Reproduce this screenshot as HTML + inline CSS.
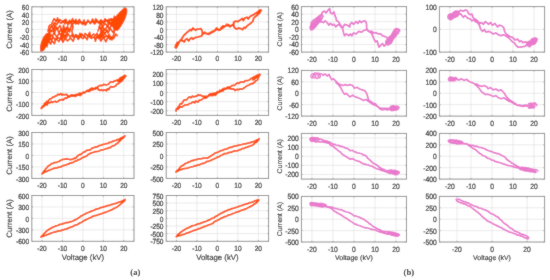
<!DOCTYPE html>
<html><head><meta charset="utf-8"><style>
html,body{margin:0;padding:0;background:#fff;width:550px;height:280px;overflow:hidden}
svg{display:block}
text{text-rendering:geometricPrecision}
.t{font-family:"Liberation Sans",sans-serif;font-size:27.2px;fill:#2a2a2a;stroke:#2a2a2a;stroke-width:0.8px}
.l{font-family:"Liberation Sans",sans-serif;font-size:7.8px;fill:#2a2a2a;stroke:#2a2a2a;stroke-width:0.15px}
.tb{font-family:"Liberation Sans",sans-serif;font-size:28.0px;fill:#2a2a2a;stroke:#2a2a2a;stroke-width:0.8px}
.lb{font-family:"Liberation Sans",sans-serif;font-size:6.95px;fill:#2a2a2a;stroke:#2a2a2a;stroke-width:0.15px}
.p{font-family:"Liberation Serif",serif;font-size:8.6px;font-weight:bold;fill:#111}
</style></head><body>
<svg width="550" height="280" viewBox="0 0 550 280">
<defs><filter id="bl" x="0" y="0" width="1" height="1"><feConvolveMatrix order="3" kernelMatrix="1 2 1 2 24 2 1 2 1" divisor="36" edgeMode="duplicate"/></filter></defs>
<rect width="550" height="280" fill="#fff"/>
<g filter="url(#bl)">
<rect width="550" height="280" fill="#fff"/>
<line x1="42.02" y1="6.80" x2="42.02" y2="52.10" stroke="#dddddd" stroke-width="0.6"/>
<line x1="62.46" y1="6.80" x2="62.46" y2="52.10" stroke="#dddddd" stroke-width="0.6"/>
<line x1="82.90" y1="6.80" x2="82.90" y2="52.10" stroke="#dddddd" stroke-width="0.6"/>
<line x1="103.34" y1="6.80" x2="103.34" y2="52.10" stroke="#dddddd" stroke-width="0.6"/>
<line x1="123.78" y1="6.80" x2="123.78" y2="52.10" stroke="#dddddd" stroke-width="0.6"/>
<line x1="31.80" y1="44.55" x2="134.00" y2="44.55" stroke="#dddddd" stroke-width="0.6"/>
<line x1="31.80" y1="37.00" x2="134.00" y2="37.00" stroke="#dddddd" stroke-width="0.6"/>
<line x1="31.80" y1="29.45" x2="134.00" y2="29.45" stroke="#dddddd" stroke-width="0.6"/>
<line x1="31.80" y1="21.90" x2="134.00" y2="21.90" stroke="#dddddd" stroke-width="0.6"/>
<line x1="31.80" y1="14.35" x2="134.00" y2="14.35" stroke="#dddddd" stroke-width="0.6"/>
<path d="M40.80,51.00 L40.60,47.00 L41.60,42.50 L43.50,37.70 L46.40,33.90 L49.30,32.90 L51.20,34.80 L49.30,39.60 L46.40,45.40 L43.50,50.20 Z" fill="#ff4a00" stroke="#ff4a00" stroke-width="1.35" stroke-linejoin="round"/>
<path d="M113.00,23.50 L115.70,17.50 L118.00,14.50 L120.60,11.70 L123.50,9.00 L125.40,7.90 L126.60,9.50 L126.60,12.50 L125.50,16.50 L124.40,19.40 L122.50,23.00 L120.60,26.20 L117.70,30.00 L114.80,30.00 Z" fill="#ff4a00" stroke="#ff4a00" stroke-width="1.35" stroke-linejoin="round"/>
<path d="M48.00,31.16 L49.22,25.64 L51.59,24.31 L54.06,18.59 L56.37,21.65 L57.56,17.86 L58.78,22.22 L59.77,19.55 L62.53,21.59 L64.99,19.72 L67.32,23.48 L69.69,20.21 L71.24,22.99 L72.49,18.48 L74.01,23.13 L75.76,19.26 L77.48,22.52 L79.35,19.41 L81.84,23.60 L84.14,20.04 L85.13,25.09 L87.92,20.11 L90.23,23.61 L92.53,19.00 L94.30,23.78 L95.68,18.73 L98.04,22.64 L101.03,19.75 L103.39,23.21 L104.96,18.89 L107.77,22.30 L109.09,19.15 L110.34,20.50 L111.71,18.54 L113.29,21.00 L114.40,16.32 L116.83,18.84" fill="none" stroke="#ff4a00" stroke-width="1.62" stroke-linejoin="round" stroke-linecap="round"/>
<path d="M49.00,32.60 L50.46,27.52 L52.80,26.06 L54.59,22.67 L56.55,24.70 L58.84,21.57 L60.99,23.19 L63.62,21.55 L64.82,23.96 L65.87,19.41 L68.05,24.83 L70.09,21.74 L72.16,24.67 L74.91,21.05 L75.87,23.99 L76.89,22.15 L78.36,24.09 L80.02,21.78 L82.94,24.47 L84.17,21.91 L85.86,24.48 L87.94,20.57 L90.51,23.27 L92.05,21.69 L94.99,23.72 L97.29,20.29 L99.15,23.53 L101.24,20.55 L104.08,22.44 L107.13,20.00 L108.08,23.24 L110.68,19.16 L112.38,20.94 L115.37,18.09 L117.82,19.60" fill="none" stroke="#ff4a00" stroke-width="1.62" stroke-linejoin="round" stroke-linecap="round"/>
<path d="M47.00,46.77 L48.17,40.41 L50.77,43.94 L51.66,40.25 L54.40,43.65 L56.21,38.15 L58.87,41.54 L60.85,37.88 L63.02,42.27 L64.70,38.68 L67.64,40.88 L70.45,37.96 L73.19,41.28 L75.54,34.50 L78.13,39.42 L80.15,36.79 L82.87,38.64 L85.03,36.63 L87.22,39.74 L88.32,35.14 L91.28,38.43 L94.26,36.66 L95.40,41.19 L96.59,36.55 L98.62,38.59 L99.47,34.94 L100.60,41.23 L103.45,37.21 L105.88,41.87 L108.29,36.03 L109.99,39.56 L111.29,36.89 L113.66,38.58 L115.80,34.17 L117.42,35.56" fill="none" stroke="#ff4a00" stroke-width="1.62" stroke-linejoin="round" stroke-linecap="round"/>
<path d="M48.00,41.71 L50.76,38.48 L51.67,40.38 L52.87,36.57 L55.25,40.22 L57.63,37.65 L60.34,38.77 L61.34,33.69 L62.43,40.17 L63.36,35.87 L66.23,38.09 L67.63,33.57 L70.29,36.96 L72.71,34.04 L74.29,37.79 L76.44,34.75 L78.30,37.74 L79.91,33.37 L80.86,36.70 L81.74,33.69 L83.79,36.86 L85.08,33.41 L87.78,36.09 L89.59,32.30 L90.71,37.16 L93.41,33.94 L95.69,35.67 L97.14,33.14 L98.42,37.47 L99.88,34.22 L100.88,37.85 L103.05,34.16 L104.53,37.36 L106.59,35.25 L108.00,37.94 L109.01,34.07 L111.88,39.91 L114.43,31.88" fill="none" stroke="#ff4a00" stroke-width="1.62" stroke-linejoin="round" stroke-linecap="round"/>
<path d="M49.00,33.13 L49.97,29.92 L50.79,31.97 L52.24,29.83 L54.34,33.52 L56.67,27.25 L58.96,33.23 L61.22,28.71 L62.55,33.29 L63.54,25.24 L65.00,32.85 L67.35,26.31 L69.67,31.83 L71.71,23.87" fill="none" stroke="#ff4a00" stroke-width="1.62" stroke-linejoin="round" stroke-linecap="round"/>
<path d="M50.00,28.89 L52.02,25.95 L53.90,31.08 L54.76,25.19 L57.28,29.49 L59.99,25.38 L62.74,34.84 L64.53,27.58 L65.49,32.10 L66.51,27.82 L68.93,31.53 L70.47,27.98" fill="none" stroke="#ff4a00" stroke-width="1.62" stroke-linejoin="round" stroke-linecap="round"/>
<path d="M52.00,36.43 L54.13,32.93 L56.94,37.22 L59.15,32.78 L61.67,36.03 L62.86,32.81 L64.92,36.65 L67.62,31.61" fill="none" stroke="#ff4a00" stroke-width="1.62" stroke-linejoin="round" stroke-linecap="round"/>
<path d="M98.00,30.97 L99.74,26.54 L101.36,31.60 L102.21,25.94 L105.02,30.23 L107.73,25.20 L109.00,29.13 L111.80,24.02 L114.03,28.91 L116.41,23.15" fill="none" stroke="#ff4a00" stroke-width="1.62" stroke-linejoin="round" stroke-linecap="round"/>
<path d="M99.00,27.09 L101.28,22.35 L102.48,26.40 L105.29,23.58 L107.44,26.18 L110.01,22.25 L110.96,26.58 L112.10,20.56 L113.51,24.39 L116.06,19.81" fill="none" stroke="#ff4a00" stroke-width="1.62" stroke-linejoin="round" stroke-linecap="round"/>
<path d="M100.00,36.08 L101.03,30.57 L101.93,37.03 L103.05,29.77 L104.90,34.29 L106.90,29.90 L107.98,32.94 L110.39,28.67 L113.16,32.50 L115.39,28.02" fill="none" stroke="#ff4a00" stroke-width="1.62" stroke-linejoin="round" stroke-linecap="round"/>
<path d="M72.00,23.00 L73.00,27.00 L72.00,31.00 L73.00,37.00" fill="none" stroke="#ff4a00" stroke-width="1.62" stroke-linejoin="round" stroke-linecap="round"/>
<line x1="42.02" y1="52.10" x2="42.02" y2="50.90" stroke="#8c8c8c" stroke-width="0.7"/>
<line x1="42.02" y1="6.80" x2="42.02" y2="8.00" stroke="#8c8c8c" stroke-width="0.7"/>
<line x1="62.46" y1="52.10" x2="62.46" y2="50.90" stroke="#8c8c8c" stroke-width="0.7"/>
<line x1="62.46" y1="6.80" x2="62.46" y2="8.00" stroke="#8c8c8c" stroke-width="0.7"/>
<line x1="82.90" y1="52.10" x2="82.90" y2="50.90" stroke="#8c8c8c" stroke-width="0.7"/>
<line x1="82.90" y1="6.80" x2="82.90" y2="8.00" stroke="#8c8c8c" stroke-width="0.7"/>
<line x1="103.34" y1="52.10" x2="103.34" y2="50.90" stroke="#8c8c8c" stroke-width="0.7"/>
<line x1="103.34" y1="6.80" x2="103.34" y2="8.00" stroke="#8c8c8c" stroke-width="0.7"/>
<line x1="123.78" y1="52.10" x2="123.78" y2="50.90" stroke="#8c8c8c" stroke-width="0.7"/>
<line x1="123.78" y1="6.80" x2="123.78" y2="8.00" stroke="#8c8c8c" stroke-width="0.7"/>
<line x1="31.80" y1="52.10" x2="33.00" y2="52.10" stroke="#8c8c8c" stroke-width="0.7"/>
<line x1="134.00" y1="52.10" x2="132.80" y2="52.10" stroke="#8c8c8c" stroke-width="0.7"/>
<line x1="31.80" y1="44.55" x2="33.00" y2="44.55" stroke="#8c8c8c" stroke-width="0.7"/>
<line x1="134.00" y1="44.55" x2="132.80" y2="44.55" stroke="#8c8c8c" stroke-width="0.7"/>
<line x1="31.80" y1="37.00" x2="33.00" y2="37.00" stroke="#8c8c8c" stroke-width="0.7"/>
<line x1="134.00" y1="37.00" x2="132.80" y2="37.00" stroke="#8c8c8c" stroke-width="0.7"/>
<line x1="31.80" y1="29.45" x2="33.00" y2="29.45" stroke="#8c8c8c" stroke-width="0.7"/>
<line x1="134.00" y1="29.45" x2="132.80" y2="29.45" stroke="#8c8c8c" stroke-width="0.7"/>
<line x1="31.80" y1="21.90" x2="33.00" y2="21.90" stroke="#8c8c8c" stroke-width="0.7"/>
<line x1="134.00" y1="21.90" x2="132.80" y2="21.90" stroke="#8c8c8c" stroke-width="0.7"/>
<line x1="31.80" y1="14.35" x2="33.00" y2="14.35" stroke="#8c8c8c" stroke-width="0.7"/>
<line x1="134.00" y1="14.35" x2="132.80" y2="14.35" stroke="#8c8c8c" stroke-width="0.7"/>
<line x1="31.80" y1="6.80" x2="33.00" y2="6.80" stroke="#8c8c8c" stroke-width="0.7"/>
<line x1="134.00" y1="6.80" x2="132.80" y2="6.80" stroke="#8c8c8c" stroke-width="0.7"/>
<rect x="31.80" y="6.80" width="102.20" height="45.30" fill="none" stroke="#8c8c8c" stroke-width="0.95"/>
<text transform="translate(42.02,61.35) scale(0.24,0.275)" text-anchor="middle" class="t">-20</text>
<text transform="translate(62.46,61.35) scale(0.24,0.275)" text-anchor="middle" class="t">-10</text>
<text transform="translate(82.90,61.35) scale(0.24,0.275)" text-anchor="middle" class="t">0</text>
<text transform="translate(103.34,61.35) scale(0.24,0.275)" text-anchor="middle" class="t">10</text>
<text transform="translate(123.78,61.35) scale(0.24,0.275)" text-anchor="middle" class="t">20</text>
<text transform="translate(29.10,55.25) scale(0.24,0.275)" text-anchor="end" class="t">-60</text>
<text transform="translate(29.10,47.70) scale(0.24,0.275)" text-anchor="end" class="t">-40</text>
<text transform="translate(29.10,40.15) scale(0.24,0.275)" text-anchor="end" class="t">-20</text>
<text transform="translate(29.10,32.60) scale(0.24,0.275)" text-anchor="end" class="t">0</text>
<text transform="translate(29.10,25.05) scale(0.24,0.275)" text-anchor="end" class="t">20</text>
<text transform="translate(29.10,17.50) scale(0.24,0.275)" text-anchor="end" class="t">40</text>
<text transform="translate(29.10,9.95) scale(0.24,0.275)" text-anchor="end" class="t">60</text>
<text transform="translate(11.60,29.45) rotate(-90)" x="0" y="0" text-anchor="middle" class="l">Current (A)</text>
<line x1="176.44" y1="6.80" x2="176.44" y2="52.10" stroke="#dddddd" stroke-width="0.6"/>
<line x1="196.92" y1="6.80" x2="196.92" y2="52.10" stroke="#dddddd" stroke-width="0.6"/>
<line x1="217.40" y1="6.80" x2="217.40" y2="52.10" stroke="#dddddd" stroke-width="0.6"/>
<line x1="237.88" y1="6.80" x2="237.88" y2="52.10" stroke="#dddddd" stroke-width="0.6"/>
<line x1="258.36" y1="6.80" x2="258.36" y2="52.10" stroke="#dddddd" stroke-width="0.6"/>
<line x1="166.20" y1="44.55" x2="268.60" y2="44.55" stroke="#dddddd" stroke-width="0.6"/>
<line x1="166.20" y1="37.00" x2="268.60" y2="37.00" stroke="#dddddd" stroke-width="0.6"/>
<line x1="166.20" y1="29.45" x2="268.60" y2="29.45" stroke="#dddddd" stroke-width="0.6"/>
<line x1="166.20" y1="21.90" x2="268.60" y2="21.90" stroke="#dddddd" stroke-width="0.6"/>
<line x1="166.20" y1="14.35" x2="268.60" y2="14.35" stroke="#dddddd" stroke-width="0.6"/>
<path d="M176.00,48.00 L176.80,44.10 L178.50,42.50 L180.10,40.90 L181.50,39.50 L182.70,37.10 L183.80,35.50 L186.50,32.80 L189.20,30.70 L190.20,29.60 L191.30,30.70 L192.90,28.00 L194.00,29.10 L195.60,30.20 L197.20,29.10 L199.30,29.10 L200.90,28.60 L202.00,30.70 L202.50,32.80 L203.10,33.90 L204.70,32.30 L206.30,33.40 L207.90,33.90 L210.00,32.80 L211.60,31.80 L213.20,31.20 L214.90,30.20 L216.50,28.00 L217.50,28.60 L218.60,30.20 L220.00,29.60 L220.90,28.00 L223.00,25.90 L225.20,26.40 L226.80,24.30 L228.90,24.80 L230.50,26.40 L232.10,24.80 L233.70,24.30 L233.70,22.10 L235.90,21.10 L238.00,21.60 L240.20,20.00 L242.30,18.40 L243.40,20.50 L245.00,17.80 L247.10,17.30 L248.20,18.90 L249.80,16.80 L251.40,15.70 L253.00,15.20 L255.10,13.60 L257.30,12.50 L259.40,10.90 L260.50,10.50 L260.00,12.50 L257.30,15.20 L255.10,16.80 L253.50,18.40 L253.00,21.10 L251.40,22.70 L249.30,24.30 L247.10,25.90 L245.50,28.00 L243.90,27.50 L242.80,29.60 L240.70,28.60 L238.60,28.00 L236.40,29.10 L234.30,27.50 L233.70,24.80 L232.00,25.50 L230.00,26.80 L228.00,25.50 L226.00,25.50 L224.00,27.00 L222.00,28.50 L220.00,30.00 L218.70,30.20 L217.00,29.00 L215.00,30.80 L213.00,32.00 L211.00,33.00 L209.00,34.30 L207.00,34.00 L205.00,33.00 L202.50,33.40 L201.50,36.10 L199.30,36.60 L197.20,37.10 L195.00,37.70 L192.90,39.30 L191.80,37.70 L190.20,38.70 L188.60,40.90 L187.00,38.70 L185.40,39.80 L184.30,41.90 L182.70,40.90 L180.60,39.80 L177.40,44.60 L175.20,47.30" fill="none" stroke="#ff4a00" stroke-width="1.89" stroke-linejoin="round" stroke-linecap="round"/>
<path d="M177.00,46.50 L176.97,46.90 L176.77,47.19 L176.44,47.29 L176.06,47.17 L175.73,46.81 L175.53,46.27 L175.50,45.62 L175.67,44.98 L176.02,44.44 L176.49,44.08 L177.01,43.96 L177.48,44.06 L177.83,44.35 L178.00,44.75 L177.97,45.15 L177.77,45.44 L177.44,45.54 L177.06,45.42 L176.73,45.06 L176.53,44.52 L176.50,43.88 L176.67,43.23 L177.02,42.69 L177.49,42.33 L178.01,42.21 L178.48,42.31 L178.83,42.60 L179.00,43.00" fill="none" stroke="#ff4a00" stroke-width="1.62" stroke-linejoin="round" stroke-linecap="round"/>
<path d="M258.00,13.50 L258.03,13.83 L257.87,14.07 L257.60,14.15 L257.28,14.05 L257.00,13.75 L256.85,13.29 L256.88,12.75 L257.10,12.21 L257.50,11.75 L258.03,11.45 L258.60,11.35 L259.12,11.43 L259.53,11.67 L259.75,12.00 L259.78,12.33 L259.62,12.57 L259.35,12.65 L259.03,12.55 L258.75,12.25 L258.60,11.79 L258.62,11.25 L258.85,10.71 L259.25,10.25 L259.78,9.95 L260.35,9.85 L260.87,9.93 L261.28,10.17 L261.50,10.50" fill="none" stroke="#ff4a00" stroke-width="1.62" stroke-linejoin="round" stroke-linecap="round"/>
<line x1="176.44" y1="52.10" x2="176.44" y2="50.90" stroke="#8c8c8c" stroke-width="0.7"/>
<line x1="176.44" y1="6.80" x2="176.44" y2="8.00" stroke="#8c8c8c" stroke-width="0.7"/>
<line x1="196.92" y1="52.10" x2="196.92" y2="50.90" stroke="#8c8c8c" stroke-width="0.7"/>
<line x1="196.92" y1="6.80" x2="196.92" y2="8.00" stroke="#8c8c8c" stroke-width="0.7"/>
<line x1="217.40" y1="52.10" x2="217.40" y2="50.90" stroke="#8c8c8c" stroke-width="0.7"/>
<line x1="217.40" y1="6.80" x2="217.40" y2="8.00" stroke="#8c8c8c" stroke-width="0.7"/>
<line x1="237.88" y1="52.10" x2="237.88" y2="50.90" stroke="#8c8c8c" stroke-width="0.7"/>
<line x1="237.88" y1="6.80" x2="237.88" y2="8.00" stroke="#8c8c8c" stroke-width="0.7"/>
<line x1="258.36" y1="52.10" x2="258.36" y2="50.90" stroke="#8c8c8c" stroke-width="0.7"/>
<line x1="258.36" y1="6.80" x2="258.36" y2="8.00" stroke="#8c8c8c" stroke-width="0.7"/>
<line x1="166.20" y1="52.10" x2="167.40" y2="52.10" stroke="#8c8c8c" stroke-width="0.7"/>
<line x1="268.60" y1="52.10" x2="267.40" y2="52.10" stroke="#8c8c8c" stroke-width="0.7"/>
<line x1="166.20" y1="44.55" x2="167.40" y2="44.55" stroke="#8c8c8c" stroke-width="0.7"/>
<line x1="268.60" y1="44.55" x2="267.40" y2="44.55" stroke="#8c8c8c" stroke-width="0.7"/>
<line x1="166.20" y1="37.00" x2="167.40" y2="37.00" stroke="#8c8c8c" stroke-width="0.7"/>
<line x1="268.60" y1="37.00" x2="267.40" y2="37.00" stroke="#8c8c8c" stroke-width="0.7"/>
<line x1="166.20" y1="29.45" x2="167.40" y2="29.45" stroke="#8c8c8c" stroke-width="0.7"/>
<line x1="268.60" y1="29.45" x2="267.40" y2="29.45" stroke="#8c8c8c" stroke-width="0.7"/>
<line x1="166.20" y1="21.90" x2="167.40" y2="21.90" stroke="#8c8c8c" stroke-width="0.7"/>
<line x1="268.60" y1="21.90" x2="267.40" y2="21.90" stroke="#8c8c8c" stroke-width="0.7"/>
<line x1="166.20" y1="14.35" x2="167.40" y2="14.35" stroke="#8c8c8c" stroke-width="0.7"/>
<line x1="268.60" y1="14.35" x2="267.40" y2="14.35" stroke="#8c8c8c" stroke-width="0.7"/>
<line x1="166.20" y1="6.80" x2="167.40" y2="6.80" stroke="#8c8c8c" stroke-width="0.7"/>
<line x1="268.60" y1="6.80" x2="267.40" y2="6.80" stroke="#8c8c8c" stroke-width="0.7"/>
<rect x="166.20" y="6.80" width="102.40" height="45.30" fill="none" stroke="#8c8c8c" stroke-width="0.95"/>
<text transform="translate(176.44,61.35) scale(0.24,0.275)" text-anchor="middle" class="t">-20</text>
<text transform="translate(196.92,61.35) scale(0.24,0.275)" text-anchor="middle" class="t">-10</text>
<text transform="translate(217.40,61.35) scale(0.24,0.275)" text-anchor="middle" class="t">0</text>
<text transform="translate(237.88,61.35) scale(0.24,0.275)" text-anchor="middle" class="t">10</text>
<text transform="translate(258.36,61.35) scale(0.24,0.275)" text-anchor="middle" class="t">20</text>
<text transform="translate(163.50,55.25) scale(0.24,0.275)" text-anchor="end" class="t">-120</text>
<text transform="translate(163.50,47.70) scale(0.24,0.275)" text-anchor="end" class="t">-80</text>
<text transform="translate(163.50,40.15) scale(0.24,0.275)" text-anchor="end" class="t">-40</text>
<text transform="translate(163.50,32.60) scale(0.24,0.275)" text-anchor="end" class="t">0</text>
<text transform="translate(163.50,25.05) scale(0.24,0.275)" text-anchor="end" class="t">40</text>
<text transform="translate(163.50,17.50) scale(0.24,0.275)" text-anchor="end" class="t">80</text>
<text transform="translate(163.50,9.95) scale(0.24,0.275)" text-anchor="end" class="t">120</text>
<line x1="311.91" y1="6.60" x2="311.91" y2="52.10" stroke="#dddddd" stroke-width="0.6"/>
<line x1="332.93" y1="6.60" x2="332.93" y2="52.10" stroke="#dddddd" stroke-width="0.6"/>
<line x1="353.95" y1="6.60" x2="353.95" y2="52.10" stroke="#dddddd" stroke-width="0.6"/>
<line x1="374.97" y1="6.60" x2="374.97" y2="52.10" stroke="#dddddd" stroke-width="0.6"/>
<line x1="395.99" y1="6.60" x2="395.99" y2="52.10" stroke="#dddddd" stroke-width="0.6"/>
<line x1="301.40" y1="44.52" x2="406.50" y2="44.52" stroke="#dddddd" stroke-width="0.6"/>
<line x1="301.40" y1="36.93" x2="406.50" y2="36.93" stroke="#dddddd" stroke-width="0.6"/>
<line x1="301.40" y1="29.35" x2="406.50" y2="29.35" stroke="#dddddd" stroke-width="0.6"/>
<line x1="301.40" y1="21.77" x2="406.50" y2="21.77" stroke="#dddddd" stroke-width="0.6"/>
<line x1="301.40" y1="14.18" x2="406.50" y2="14.18" stroke="#dddddd" stroke-width="0.6"/>
<path d="M310.90,29.50 L311.30,22.50 L313.90,19.90 L316.50,18.10 L319.10,16.40 L320.90,15.50 L322.60,12.00 L324.40,11.10 L326.10,12.90 L327.90,10.30 L329.60,8.50 L330.50,12.90 L332.30,13.80 L334.00,12.00 L334.90,15.50 L335.80,17.30 L336.60,20.80 L338.40,21.60 L340.10,24.30 L341.90,26.90 L342.80,29.50 L343.60,33.00 L344.50,35.60 L346.30,33.90 L348.90,35.60 L350.50,33.90 L351.80,35.70 L353.50,33.00 L356.10,33.90 L358.80,31.30 L361.40,32.20 L364.00,30.40 L366.60,29.50 L368.40,31.30 L370.20,32.20 L371.90,33.90 L373.70,38.30 L375.40,41.80 L377.20,40.90 L378.90,47.10 L380.70,45.30 L382.40,43.50 L384.20,46.20 L385.90,44.40 L387.70,41.80 L387.70,38.30 L385.00,36.50 L382.40,35.70 L380.70,33.90 L378.00,33.90 L376.30,32.70 L373.70,33.00 L371.90,31.30 L369.30,31.30 L367.50,30.40 L366.60,27.80 L366.60,24.30 L365.80,21.60 L364.00,20.80 L361.40,22.50 L359.60,20.80 L357.90,23.40 L356.10,21.60 L353.50,24.30 L351.80,22.50 L350.00,24.30 L349.80,26.90 L347.10,25.10 L344.50,24.30 L342.80,27.80 L341.00,26.90 L339.30,24.30 L337.50,25.10 L335.80,26.90 L334.00,24.30 L332.30,25.10 L330.50,23.40 L328.80,25.10 L327.00,22.50 L325.30,20.80 L323.50,22.50 L320.90,21.60 L318.30,22.50 L315.60,24.30 L313.00,26.00 L310.90,29.50" fill="none" stroke="#e979cc" stroke-width="1.7550000000000001" stroke-linejoin="round" stroke-linecap="round"/>
<path d="M312.00,28.00 L320.50,17.50" fill="none" stroke="#e979cc" stroke-width="4.86" stroke-linejoin="round" stroke-linecap="round" stroke-opacity="0.3"/>
<path d="M313.31,28.00 L313.13,28.99 L312.35,29.72 L311.12,29.76 L310.32,28.67 L310.04,27.39 L310.45,26.04 L311.50,24.88 L312.99,25.03 L314.42,25.47 L314.97,26.78 L314.41,27.92 L313.51,28.81 L312.14,28.66 L311.06,27.68 L310.38,26.17 L311.38,24.73 L312.61,23.81 L314.24,23.22 L315.48,24.24 L315.96,25.56 L315.68,26.86 L314.58,27.64 L313.07,27.82 L312.11,26.46 L311.76,24.94 L312.16,23.31 L313.56,22.28 L315.31,21.96 L316.73,22.88 L317.09,24.33 L316.66,25.58 L315.70,26.61 L314.15,26.55 L313.32,25.13 L312.65,23.72 L313.20,22.08 L314.65,21.14 L316.19,21.26 L317.63,21.77 L318.15,23.11 L317.54,24.23 L316.65,25.08 L315.40,24.72 L314.56,23.77 L314.17,22.50 L314.69,21.17 L315.82,20.29 L317.24,20.07 L318.49,20.69 L319.06,21.89 L318.72,23.10 L317.69,23.79 L316.44,23.55 L315.70,22.49 L315.54,21.28 L315.80,19.99 L316.92,19.19 L318.24,19.02 L319.08,19.80 L319.55,20.67 L319.64,21.78 L318.64,22.25 L317.54,22.18 L316.91,21.15 L316.54,20.06 L316.77,18.70 L317.97,17.94 L319.34,17.64 L320.20,18.54 L320.78,19.44 L320.69,20.55 L319.69,21.03 L318.55,21.09 L317.68,20.14 L317.61,18.83 L318.05,17.64 L318.91,16.39 L320.31,16.68 L321.41,17.20 L321.99,18.22 L321.89,19.43 L320.89,20.23 L319.58,19.95 L318.56,19.05 L318.06,17.61 L318.82,16.21 L319.99,15.23 L321.53,14.96 L322.87,15.69 L323.14,17.00" fill="none" stroke="#e979cc" stroke-width="1.4850000000000003" stroke-linejoin="round" stroke-linecap="round"/>
<path d="M389.00,42.00 L396.50,31.50" fill="none" stroke="#e979cc" stroke-width="5.4" stroke-linejoin="round" stroke-linecap="round" stroke-opacity="0.3"/>
<path d="M390.36,42.50 L390.08,43.83 L388.96,44.67 L387.38,44.90 L386.20,43.61 L385.63,41.92 L386.54,40.35 L387.79,39.10 L389.63,38.79 L391.04,39.85 L391.90,41.35 L391.40,42.98 L389.91,43.67 L388.41,43.36 L386.91,42.60 L386.81,40.77 L387.44,39.21 L388.64,37.80 L390.53,37.64 L392.08,38.60 L392.78,40.20 L391.94,41.58 L390.74,42.30 L389.31,42.19 L387.79,41.47 L387.83,39.62 L388.38,38.08 L389.71,37.19 L391.24,37.08 L392.46,37.82 L393.14,39.05 L392.66,40.29 L391.61,41.07 L390.14,41.27 L389.25,39.90 L388.57,38.48 L389.21,36.88 L390.59,35.97 L392.15,35.88 L393.49,36.57 L393.92,37.90 L393.38,39.01 L392.44,39.69 L391.24,39.51 L390.24,38.69 L389.61,37.33 L390.44,35.98 L391.65,35.31 L392.97,34.99 L394.25,35.53 L394.55,36.75 L394.36,37.92 L393.24,38.25 L392.21,38.12 L391.13,37.55 L391.17,36.17 L391.48,34.93 L392.52,34.07 L393.80,34.06 L394.75,34.67 L395.17,35.60 L395.37,36.85 L394.25,37.44 L392.95,37.48 L392.07,36.37 L391.48,35.02 L392.05,33.54 L393.35,32.70 L394.79,32.61 L395.98,33.28 L396.34,34.45 L396.13,35.60 L395.21,36.48 L393.92,36.10 L392.64,35.46 L392.42,33.88 L392.89,32.35 L394.14,31.21 L395.79,31.17 L396.90,32.11 L397.51,33.30 L397.06,34.47 L396.07,35.19 L394.61,35.61 L393.45,34.37 L392.81,32.73 L393.51,30.99 L395.05,30.11 L396.82,29.61 L398.36,30.56 L398.75,32.15 L398.17,33.48 L397.08,34.39 L395.59,34.21 L394.31,33.25 L394.05,31.58 L394.32,29.77 L395.79,28.46 L397.62,28.77 L399.27,29.40 L399.81,31.00" fill="none" stroke="#e979cc" stroke-width="1.4850000000000003" stroke-linejoin="round" stroke-linecap="round"/>
<line x1="311.91" y1="52.10" x2="311.91" y2="50.90" stroke="#8c8c8c" stroke-width="0.7"/>
<line x1="311.91" y1="6.60" x2="311.91" y2="7.80" stroke="#8c8c8c" stroke-width="0.7"/>
<line x1="332.93" y1="52.10" x2="332.93" y2="50.90" stroke="#8c8c8c" stroke-width="0.7"/>
<line x1="332.93" y1="6.60" x2="332.93" y2="7.80" stroke="#8c8c8c" stroke-width="0.7"/>
<line x1="353.95" y1="52.10" x2="353.95" y2="50.90" stroke="#8c8c8c" stroke-width="0.7"/>
<line x1="353.95" y1="6.60" x2="353.95" y2="7.80" stroke="#8c8c8c" stroke-width="0.7"/>
<line x1="374.97" y1="52.10" x2="374.97" y2="50.90" stroke="#8c8c8c" stroke-width="0.7"/>
<line x1="374.97" y1="6.60" x2="374.97" y2="7.80" stroke="#8c8c8c" stroke-width="0.7"/>
<line x1="395.99" y1="52.10" x2="395.99" y2="50.90" stroke="#8c8c8c" stroke-width="0.7"/>
<line x1="395.99" y1="6.60" x2="395.99" y2="7.80" stroke="#8c8c8c" stroke-width="0.7"/>
<line x1="301.40" y1="52.10" x2="302.60" y2="52.10" stroke="#8c8c8c" stroke-width="0.7"/>
<line x1="406.50" y1="52.10" x2="405.30" y2="52.10" stroke="#8c8c8c" stroke-width="0.7"/>
<line x1="301.40" y1="44.52" x2="302.60" y2="44.52" stroke="#8c8c8c" stroke-width="0.7"/>
<line x1="406.50" y1="44.52" x2="405.30" y2="44.52" stroke="#8c8c8c" stroke-width="0.7"/>
<line x1="301.40" y1="36.93" x2="302.60" y2="36.93" stroke="#8c8c8c" stroke-width="0.7"/>
<line x1="406.50" y1="36.93" x2="405.30" y2="36.93" stroke="#8c8c8c" stroke-width="0.7"/>
<line x1="301.40" y1="29.35" x2="302.60" y2="29.35" stroke="#8c8c8c" stroke-width="0.7"/>
<line x1="406.50" y1="29.35" x2="405.30" y2="29.35" stroke="#8c8c8c" stroke-width="0.7"/>
<line x1="301.40" y1="21.77" x2="302.60" y2="21.77" stroke="#8c8c8c" stroke-width="0.7"/>
<line x1="406.50" y1="21.77" x2="405.30" y2="21.77" stroke="#8c8c8c" stroke-width="0.7"/>
<line x1="301.40" y1="14.18" x2="302.60" y2="14.18" stroke="#8c8c8c" stroke-width="0.7"/>
<line x1="406.50" y1="14.18" x2="405.30" y2="14.18" stroke="#8c8c8c" stroke-width="0.7"/>
<line x1="301.40" y1="6.60" x2="302.60" y2="6.60" stroke="#8c8c8c" stroke-width="0.7"/>
<line x1="406.50" y1="6.60" x2="405.30" y2="6.60" stroke="#8c8c8c" stroke-width="0.7"/>
<rect x="301.40" y="6.60" width="105.10" height="45.50" fill="none" stroke="#8c8c8c" stroke-width="0.95"/>
<text transform="translate(311.91,61.70) scale(0.24,0.275)" text-anchor="middle" class="tb">-20</text>
<text transform="translate(332.93,61.70) scale(0.24,0.275)" text-anchor="middle" class="tb">-10</text>
<text transform="translate(353.95,61.70) scale(0.24,0.275)" text-anchor="middle" class="tb">0</text>
<text transform="translate(374.97,61.70) scale(0.24,0.275)" text-anchor="middle" class="tb">10</text>
<text transform="translate(395.99,61.70) scale(0.24,0.275)" text-anchor="middle" class="tb">20</text>
<text transform="translate(298.70,55.05) scale(0.24,0.275)" text-anchor="end" class="tb">-60</text>
<text transform="translate(298.70,47.47) scale(0.24,0.275)" text-anchor="end" class="tb">-40</text>
<text transform="translate(298.70,39.88) scale(0.24,0.275)" text-anchor="end" class="tb">-20</text>
<text transform="translate(298.70,32.30) scale(0.24,0.275)" text-anchor="end" class="tb">0</text>
<text transform="translate(298.70,24.72) scale(0.24,0.275)" text-anchor="end" class="tb">20</text>
<text transform="translate(298.70,17.13) scale(0.24,0.275)" text-anchor="end" class="tb">40</text>
<text transform="translate(298.70,9.55) scale(0.24,0.275)" text-anchor="end" class="tb">60</text>
<text transform="translate(281.50,29.35) rotate(-90)" x="0" y="0" text-anchor="middle" class="lb">Current (A)</text>
<line x1="449.92" y1="6.60" x2="449.92" y2="52.10" stroke="#dddddd" stroke-width="0.6"/>
<line x1="470.96" y1="6.60" x2="470.96" y2="52.10" stroke="#dddddd" stroke-width="0.6"/>
<line x1="492.00" y1="6.60" x2="492.00" y2="52.10" stroke="#dddddd" stroke-width="0.6"/>
<line x1="513.04" y1="6.60" x2="513.04" y2="52.10" stroke="#dddddd" stroke-width="0.6"/>
<line x1="534.08" y1="6.60" x2="534.08" y2="52.10" stroke="#dddddd" stroke-width="0.6"/>
<line x1="439.40" y1="29.35" x2="544.60" y2="29.35" stroke="#dddddd" stroke-width="0.6"/>
<path d="M449.00,17.00 L452.00,14.00 L455.00,13.00 L458.00,12.00 L460.60,10.30 L463.30,11.10 L465.90,9.90 L467.60,11.10 L468.50,13.80 L470.30,14.60 L472.00,14.10 L472.90,17.30 L474.60,19.00 L476.40,19.90 L478.10,21.60 L479.90,23.40 L481.60,22.50 L483.40,24.30 L485.10,21.60 L487.80,23.40 L488.50,24.30 L490.60,22.50 L492.40,25.20 L495.00,23.40 L497.60,26.90 L499.40,25.20 L502.00,26.00 L503.80,27.80 L504.60,31.30 L505.50,33.00 L507.30,34.80 L509.90,36.50 L512.50,37.40 L515.20,40.00 L517.80,39.20 L519.50,41.80 L521.30,40.90 L523.00,42.70 L525.70,41.80 L527.40,43.00 L525.70,46.20 L523.00,46.70 L520.40,47.10 L517.80,47.10 L516.00,45.30 L514.30,42.70 L512.50,41.80 L510.80,40.00 L508.20,37.40 L505.50,35.70 L503.80,34.80 L501.10,35.70 L498.50,34.80 L495.90,33.00 L493.30,33.90 L490.60,32.20 L488.60,31.30 L486.00,32.10 L484.30,29.50 L482.50,31.30 L480.80,29.50 L479.90,26.90 L479.00,24.30 L477.30,22.50 L475.50,21.60 L473.80,19.90 L472.00,20.80 L470.30,19.00 L467.60,18.10 L465.00,15.50 L463.30,17.30 L460.60,13.80 L458.00,14.60 L455.00,16.00 L452.00,17.50 L449.50,18.00" fill="none" stroke="#e979cc" stroke-width="1.7550000000000001" stroke-linejoin="round" stroke-linecap="round"/>
<path d="M451.00,16.50 L456.00,14.00" fill="none" stroke="#e979cc" stroke-width="3.24" stroke-linejoin="round" stroke-linecap="round" stroke-opacity="0.5"/>
<path d="M452.80,17.00 L452.43,18.73 L451.18,19.87 L449.62,19.46 L448.31,18.49 L447.81,16.65 L448.52,14.76 L450.24,14.03 L451.93,13.74 L453.33,14.74 L453.84,16.30 L453.68,17.92 L452.41,18.58 L451.13,18.41 L449.95,17.60 L449.83,15.95 L450.60,14.59 L451.76,13.75 L453.16,13.60 L454.12,14.52 L454.91,15.60 L454.70,16.92 L453.70,17.52 L452.52,17.71 L451.49,16.79 L451.38,15.25 L451.84,13.77 L453.18,13.12 L454.52,13.04 L456.09,13.37 L456.36,14.90 L456.10,16.21 L455.29,17.46 L453.82,17.35 L452.92,16.07 L452.46,14.55 L453.06,12.92 L454.41,11.83 L456.06,11.88 L457.66,12.54 L458.21,14.20 L457.91,15.84 L456.68,16.71 L455.24,16.60 L454.15,15.50 L453.34,13.85 L454.12,11.95 L455.74,10.89 L457.48,11.12 L458.82,12.03 L459.37,13.50" fill="none" stroke="#e979cc" stroke-width="1.4850000000000003" stroke-linejoin="round" stroke-linecap="round"/>
<path d="M529.50,43.50 L535.00,40.50" fill="none" stroke="#e979cc" stroke-width="3.78" stroke-linejoin="round" stroke-linecap="round" stroke-opacity="0.6"/>
<path d="M531.17,44.00 L530.86,45.59 L529.91,46.66 L528.63,46.58 L527.65,45.42 L527.62,43.67 L527.90,41.95 L529.18,41.21 L530.42,41.26 L531.31,42.14 L531.91,43.33 L531.50,44.51 L530.81,45.25 L529.85,45.35 L529.01,44.49 L528.79,43.00 L529.51,41.78 L530.38,41.02 L531.44,40.84 L532.46,41.41 L533.04,42.67 L532.79,44.03 L531.99,44.95 L530.93,44.70 L530.10,43.82 L529.99,42.33 L530.39,40.92 L531.39,40.05 L532.63,39.75 L533.76,40.54 L534.27,42.00 L533.95,43.44 L533.09,44.37 L531.97,44.24 L530.84,43.47 L530.59,41.67 L531.03,39.84 L532.28,38.61 L533.78,38.83 L534.90,39.81 L535.51,41.33 L535.45,43.16 L534.30,44.21 L532.96,43.92 L531.80,42.92 L531.66,41.00 L531.99,39.05 L533.45,38.30 L534.93,37.87 L536.30,38.85 L536.58,40.67 L536.27,42.25 L535.24,42.97 L534.12,42.95 L533.27,41.89 L533.01,40.33 L533.61,38.89 L534.60,37.88 L535.82,37.97 L536.94,38.61 L537.32,40.00" fill="none" stroke="#e979cc" stroke-width="1.4850000000000003" stroke-linejoin="round" stroke-linecap="round"/>
<line x1="449.92" y1="52.10" x2="449.92" y2="50.90" stroke="#8c8c8c" stroke-width="0.7"/>
<line x1="449.92" y1="6.60" x2="449.92" y2="7.80" stroke="#8c8c8c" stroke-width="0.7"/>
<line x1="470.96" y1="52.10" x2="470.96" y2="50.90" stroke="#8c8c8c" stroke-width="0.7"/>
<line x1="470.96" y1="6.60" x2="470.96" y2="7.80" stroke="#8c8c8c" stroke-width="0.7"/>
<line x1="492.00" y1="52.10" x2="492.00" y2="50.90" stroke="#8c8c8c" stroke-width="0.7"/>
<line x1="492.00" y1="6.60" x2="492.00" y2="7.80" stroke="#8c8c8c" stroke-width="0.7"/>
<line x1="513.04" y1="52.10" x2="513.04" y2="50.90" stroke="#8c8c8c" stroke-width="0.7"/>
<line x1="513.04" y1="6.60" x2="513.04" y2="7.80" stroke="#8c8c8c" stroke-width="0.7"/>
<line x1="534.08" y1="52.10" x2="534.08" y2="50.90" stroke="#8c8c8c" stroke-width="0.7"/>
<line x1="534.08" y1="6.60" x2="534.08" y2="7.80" stroke="#8c8c8c" stroke-width="0.7"/>
<line x1="439.40" y1="52.10" x2="440.60" y2="52.10" stroke="#8c8c8c" stroke-width="0.7"/>
<line x1="544.60" y1="52.10" x2="543.40" y2="52.10" stroke="#8c8c8c" stroke-width="0.7"/>
<line x1="439.40" y1="29.35" x2="440.60" y2="29.35" stroke="#8c8c8c" stroke-width="0.7"/>
<line x1="544.60" y1="29.35" x2="543.40" y2="29.35" stroke="#8c8c8c" stroke-width="0.7"/>
<line x1="439.40" y1="6.60" x2="440.60" y2="6.60" stroke="#8c8c8c" stroke-width="0.7"/>
<line x1="544.60" y1="6.60" x2="543.40" y2="6.60" stroke="#8c8c8c" stroke-width="0.7"/>
<rect x="439.40" y="6.60" width="105.20" height="45.50" fill="none" stroke="#8c8c8c" stroke-width="0.95"/>
<text transform="translate(449.92,61.70) scale(0.24,0.275)" text-anchor="middle" class="tb">-20</text>
<text transform="translate(470.96,61.70) scale(0.24,0.275)" text-anchor="middle" class="tb">-10</text>
<text transform="translate(492.00,61.70) scale(0.24,0.275)" text-anchor="middle" class="tb">0</text>
<text transform="translate(513.04,61.70) scale(0.24,0.275)" text-anchor="middle" class="tb">10</text>
<text transform="translate(534.08,61.70) scale(0.24,0.275)" text-anchor="middle" class="tb">20</text>
<text transform="translate(436.70,55.05) scale(0.24,0.275)" text-anchor="end" class="tb">-100</text>
<text transform="translate(436.70,32.30) scale(0.24,0.275)" text-anchor="end" class="tb">0</text>
<text transform="translate(436.70,9.55) scale(0.24,0.275)" text-anchor="end" class="tb">100</text>
<line x1="42.02" y1="69.50" x2="42.02" y2="115.40" stroke="#dddddd" stroke-width="0.6"/>
<line x1="62.46" y1="69.50" x2="62.46" y2="115.40" stroke="#dddddd" stroke-width="0.6"/>
<line x1="82.90" y1="69.50" x2="82.90" y2="115.40" stroke="#dddddd" stroke-width="0.6"/>
<line x1="103.34" y1="69.50" x2="103.34" y2="115.40" stroke="#dddddd" stroke-width="0.6"/>
<line x1="123.78" y1="69.50" x2="123.78" y2="115.40" stroke="#dddddd" stroke-width="0.6"/>
<line x1="31.80" y1="103.93" x2="134.00" y2="103.93" stroke="#dddddd" stroke-width="0.6"/>
<line x1="31.80" y1="92.45" x2="134.00" y2="92.45" stroke="#dddddd" stroke-width="0.6"/>
<line x1="31.80" y1="80.97" x2="134.00" y2="80.97" stroke="#dddddd" stroke-width="0.6"/>
<path d="M41.20,108.53 L42.41,106.43 L43.13,105.74 L44.08,105.32 L44.66,103.08 L45.93,102.93 L46.77,101.28 L47.47,101.70 L48.23,101.43 L49.47,99.11 L49.87,99.35 L51.24,98.39 L52.01,97.89 L53.08,96.97 L54.47,96.89 L55.52,95.82 L56.68,95.63 L57.89,94.24 L59.48,94.80 L60.68,93.73 L62.03,95.05 L62.73,94.20 L64.22,94.98 L65.69,94.31 L66.98,94.61 L67.49,95.66 L69.16,96.17 L70.30,95.76 L71.22,94.97 L72.79,95.11 L73.62,95.19 L75.08,95.15 L76.07,94.46 L77.30,94.80 L78.66,93.86 L79.99,92.95 L80.92,93.73 L82.59,93.10 L83.44,91.91 L84.67,92.80 L85.98,91.44 L87.19,90.32 L88.17,91.01 L89.38,89.53 L90.38,89.09 L91.91,87.81 L92.99,88.98 L94.21,88.53 L95.33,87.87 L96.37,87.43 L97.26,87.97 L98.44,86.01 L99.30,85.77 L100.39,85.32 L101.65,85.62 L102.86,85.12 L103.71,84.41 L104.96,84.75 L106.49,84.84 L107.63,84.50 L108.50,84.18 L109.89,82.45 L110.71,81.93 L112.27,81.95 L113.09,82.22 L114.38,80.73 L115.45,81.05 L116.62,80.09 L118.08,79.75 L119.04,79.12 L120.04,78.30 L121.42,77.24 L122.42,77.82 L123.81,75.88 L125.56,75.97 L124.94,75.93 L124.31,78.04 L123.62,78.87 L123.02,79.46 L121.90,81.11 L121.34,81.15 L120.15,82.27 L119.08,83.00 L117.87,83.97 L116.56,84.24 L115.89,85.88 L114.36,86.45 L113.20,87.19 L112.27,86.82 L110.83,86.65 L110.00,87.27 L108.81,89.53 L107.50,88.71 L106.50,90.75 L105.24,90.08 L103.90,89.96 L102.64,90.71 L101.60,89.68 L100.25,90.37 L99.19,89.90 L98.31,89.87 L97.72,87.63 L96.17,88.36 L95.43,89.34 L93.91,88.48 L92.93,89.94 L91.90,89.39 L90.71,90.34 L89.32,91.37 L88.02,91.41 L86.78,90.91 L86.06,91.55 L84.81,92.81 L83.68,92.96 L82.25,93.36 L81.37,94.45 L80.25,95.50 L78.45,95.14 L77.09,94.47 L75.90,96.19 L75.12,96.36 L73.71,96.21 L72.79,96.05 L71.50,96.04 L70.07,96.38 L69.16,97.12 L67.83,97.12 L66.63,98.42 L66.08,97.72 L64.69,98.32 L63.09,100.19 L61.88,99.33 L61.23,99.96 L59.59,99.80 L58.49,101.14 L57.25,101.74 L56.23,102.15 L55.35,101.20 L53.83,101.79 L52.58,102.37 L51.38,101.52 L50.73,102.33 L49.35,102.91 L48.03,102.81 L47.19,105.05 L46.05,104.10 L44.48,105.88 L43.73,106.61 L42.40,107.69 L41.27,107.97" fill="none" stroke="#ff4a00" stroke-width="1.7550000000000001" stroke-linejoin="round" stroke-linecap="round"/>
<path d="M118.50,81.00 L125.00,76.00" fill="none" stroke="#ff4a00" stroke-width="2.9700000000000006" stroke-linejoin="round" stroke-linecap="round"/>
<line x1="42.02" y1="115.40" x2="42.02" y2="114.20" stroke="#8c8c8c" stroke-width="0.7"/>
<line x1="42.02" y1="69.50" x2="42.02" y2="70.70" stroke="#8c8c8c" stroke-width="0.7"/>
<line x1="62.46" y1="115.40" x2="62.46" y2="114.20" stroke="#8c8c8c" stroke-width="0.7"/>
<line x1="62.46" y1="69.50" x2="62.46" y2="70.70" stroke="#8c8c8c" stroke-width="0.7"/>
<line x1="82.90" y1="115.40" x2="82.90" y2="114.20" stroke="#8c8c8c" stroke-width="0.7"/>
<line x1="82.90" y1="69.50" x2="82.90" y2="70.70" stroke="#8c8c8c" stroke-width="0.7"/>
<line x1="103.34" y1="115.40" x2="103.34" y2="114.20" stroke="#8c8c8c" stroke-width="0.7"/>
<line x1="103.34" y1="69.50" x2="103.34" y2="70.70" stroke="#8c8c8c" stroke-width="0.7"/>
<line x1="123.78" y1="115.40" x2="123.78" y2="114.20" stroke="#8c8c8c" stroke-width="0.7"/>
<line x1="123.78" y1="69.50" x2="123.78" y2="70.70" stroke="#8c8c8c" stroke-width="0.7"/>
<line x1="31.80" y1="115.40" x2="33.00" y2="115.40" stroke="#8c8c8c" stroke-width="0.7"/>
<line x1="134.00" y1="115.40" x2="132.80" y2="115.40" stroke="#8c8c8c" stroke-width="0.7"/>
<line x1="31.80" y1="103.93" x2="33.00" y2="103.93" stroke="#8c8c8c" stroke-width="0.7"/>
<line x1="134.00" y1="103.93" x2="132.80" y2="103.93" stroke="#8c8c8c" stroke-width="0.7"/>
<line x1="31.80" y1="92.45" x2="33.00" y2="92.45" stroke="#8c8c8c" stroke-width="0.7"/>
<line x1="134.00" y1="92.45" x2="132.80" y2="92.45" stroke="#8c8c8c" stroke-width="0.7"/>
<line x1="31.80" y1="80.97" x2="33.00" y2="80.97" stroke="#8c8c8c" stroke-width="0.7"/>
<line x1="134.00" y1="80.97" x2="132.80" y2="80.97" stroke="#8c8c8c" stroke-width="0.7"/>
<line x1="31.80" y1="69.50" x2="33.00" y2="69.50" stroke="#8c8c8c" stroke-width="0.7"/>
<line x1="134.00" y1="69.50" x2="132.80" y2="69.50" stroke="#8c8c8c" stroke-width="0.7"/>
<rect x="31.80" y="69.50" width="102.20" height="45.90" fill="none" stroke="#8c8c8c" stroke-width="0.95"/>
<text transform="translate(42.02,124.65) scale(0.24,0.275)" text-anchor="middle" class="t">-20</text>
<text transform="translate(62.46,124.65) scale(0.24,0.275)" text-anchor="middle" class="t">-10</text>
<text transform="translate(82.90,124.65) scale(0.24,0.275)" text-anchor="middle" class="t">0</text>
<text transform="translate(103.34,124.65) scale(0.24,0.275)" text-anchor="middle" class="t">10</text>
<text transform="translate(123.78,124.65) scale(0.24,0.275)" text-anchor="middle" class="t">20</text>
<text transform="translate(29.10,118.55) scale(0.24,0.275)" text-anchor="end" class="t">-200</text>
<text transform="translate(29.10,107.08) scale(0.24,0.275)" text-anchor="end" class="t">-100</text>
<text transform="translate(29.10,95.60) scale(0.24,0.275)" text-anchor="end" class="t">0</text>
<text transform="translate(29.10,84.12) scale(0.24,0.275)" text-anchor="end" class="t">100</text>
<text transform="translate(29.10,72.65) scale(0.24,0.275)" text-anchor="end" class="t">200</text>
<text transform="translate(11.60,92.45) rotate(-90)" x="0" y="0" text-anchor="middle" class="l">Current (A)</text>
<line x1="176.44" y1="69.50" x2="176.44" y2="115.40" stroke="#dddddd" stroke-width="0.6"/>
<line x1="196.92" y1="69.50" x2="196.92" y2="115.40" stroke="#dddddd" stroke-width="0.6"/>
<line x1="217.40" y1="69.50" x2="217.40" y2="115.40" stroke="#dddddd" stroke-width="0.6"/>
<line x1="237.88" y1="69.50" x2="237.88" y2="115.40" stroke="#dddddd" stroke-width="0.6"/>
<line x1="258.36" y1="69.50" x2="258.36" y2="115.40" stroke="#dddddd" stroke-width="0.6"/>
<line x1="166.20" y1="110.81" x2="268.60" y2="110.81" stroke="#dddddd" stroke-width="0.6"/>
<line x1="166.20" y1="101.63" x2="268.60" y2="101.63" stroke="#dddddd" stroke-width="0.6"/>
<line x1="166.20" y1="92.45" x2="268.60" y2="92.45" stroke="#dddddd" stroke-width="0.6"/>
<line x1="166.20" y1="83.27" x2="268.60" y2="83.27" stroke="#dddddd" stroke-width="0.6"/>
<line x1="166.20" y1="74.09" x2="268.60" y2="74.09" stroke="#dddddd" stroke-width="0.6"/>
<path d="M176.12,111.12 L176.39,108.74 L177.46,108.78 L178.08,107.09 L178.92,106.40 L179.77,104.52 L180.57,103.73 L181.58,103.94 L182.57,102.47 L183.20,101.28 L183.88,100.14 L185.25,99.84 L186.38,99.99 L187.61,98.70 L188.64,97.27 L189.85,96.89 L191.10,97.70 L192.35,96.09 L193.62,96.77 L194.71,96.65 L195.89,96.16 L196.86,96.17 L198.32,94.56 L199.39,95.44 L200.41,95.15 L201.60,95.78 L202.95,96.08 L204.23,96.61 L205.79,96.14 L206.93,97.07 L208.17,95.68 L209.10,94.72 L210.50,93.77 L211.80,93.66 L213.00,93.46 L214.22,93.83 L215.17,93.03 L216.41,92.64 L217.41,91.53 L218.67,92.16 L219.89,90.25 L221.15,90.76 L222.36,89.34 L223.45,88.56 L224.57,88.34 L225.54,88.83 L226.64,87.80 L228.17,86.89 L229.16,87.46 L230.56,86.75 L231.73,85.58 L233.14,85.48 L234.27,85.46 L235.41,84.63 L236.57,83.41 L238.12,82.95 L238.98,83.51 L240.25,82.17 L241.70,81.94 L242.41,81.85 L243.86,82.09 L244.78,80.97 L245.91,80.68 L247.43,80.68 L248.66,80.24 L249.81,79.70 L250.79,78.46 L252.04,78.01 L252.94,77.62 L254.48,76.50 L255.51,76.36 L256.64,75.40 L258.02,75.01 L258.90,74.62 L259.67,74.19 L259.73,74.29 L259.03,75.76 L258.41,77.82 L257.74,79.37 L257.08,80.39 L255.87,80.51 L255.01,81.55 L254.31,82.68 L253.48,82.61 L252.46,83.84 L251.10,83.62 L250.12,84.31 L249.11,85.09 L247.64,85.49 L246.54,86.05 L245.51,86.94 L244.24,87.79 L243.03,88.78 L242.22,89.07 L240.80,89.12 L239.71,88.78 L238.46,89.94 L237.18,89.25 L236.31,89.69 L235.01,90.57 L233.89,89.16 L232.90,88.90 L231.27,89.00 L230.14,88.22 L229.33,88.64 L227.77,88.12 L226.79,88.61 L225.53,89.21 L224.30,89.15 L223.27,90.76 L221.96,91.04 L220.85,91.31 L219.78,91.87 L218.79,92.50 L217.32,92.79 L216.13,94.56 L215.23,95.34 L214.09,94.44 L212.88,95.74 L211.71,95.40 L210.33,95.43 L209.24,95.63 L207.81,96.46 L206.67,97.64 L205.31,98.34 L203.84,97.94 L202.76,98.55 L201.57,99.79 L200.63,100.24 L199.42,100.05 L198.03,102.10 L196.76,101.43 L195.56,101.17 L194.79,102.88 L193.50,101.81 L192.17,102.27 L191.18,103.29 L189.90,103.51 L188.58,104.00 L187.82,104.81 L186.24,104.83 L185.37,104.81 L184.29,105.54 L183.03,106.05 L182.00,107.25 L180.64,106.83 L179.41,107.21 L178.31,109.14 L176.95,109.12 L175.89,110.25" fill="none" stroke="#ff4a00" stroke-width="1.7550000000000001" stroke-linejoin="round" stroke-linecap="round"/>
<path d="M253.00,79.50 L259.50,75.00" fill="none" stroke="#ff4a00" stroke-width="2.43" stroke-linejoin="round" stroke-linecap="round"/>
<line x1="176.44" y1="115.40" x2="176.44" y2="114.20" stroke="#8c8c8c" stroke-width="0.7"/>
<line x1="176.44" y1="69.50" x2="176.44" y2="70.70" stroke="#8c8c8c" stroke-width="0.7"/>
<line x1="196.92" y1="115.40" x2="196.92" y2="114.20" stroke="#8c8c8c" stroke-width="0.7"/>
<line x1="196.92" y1="69.50" x2="196.92" y2="70.70" stroke="#8c8c8c" stroke-width="0.7"/>
<line x1="217.40" y1="115.40" x2="217.40" y2="114.20" stroke="#8c8c8c" stroke-width="0.7"/>
<line x1="217.40" y1="69.50" x2="217.40" y2="70.70" stroke="#8c8c8c" stroke-width="0.7"/>
<line x1="237.88" y1="115.40" x2="237.88" y2="114.20" stroke="#8c8c8c" stroke-width="0.7"/>
<line x1="237.88" y1="69.50" x2="237.88" y2="70.70" stroke="#8c8c8c" stroke-width="0.7"/>
<line x1="258.36" y1="115.40" x2="258.36" y2="114.20" stroke="#8c8c8c" stroke-width="0.7"/>
<line x1="258.36" y1="69.50" x2="258.36" y2="70.70" stroke="#8c8c8c" stroke-width="0.7"/>
<line x1="166.20" y1="110.81" x2="167.40" y2="110.81" stroke="#8c8c8c" stroke-width="0.7"/>
<line x1="268.60" y1="110.81" x2="267.40" y2="110.81" stroke="#8c8c8c" stroke-width="0.7"/>
<line x1="166.20" y1="101.63" x2="167.40" y2="101.63" stroke="#8c8c8c" stroke-width="0.7"/>
<line x1="268.60" y1="101.63" x2="267.40" y2="101.63" stroke="#8c8c8c" stroke-width="0.7"/>
<line x1="166.20" y1="92.45" x2="167.40" y2="92.45" stroke="#8c8c8c" stroke-width="0.7"/>
<line x1="268.60" y1="92.45" x2="267.40" y2="92.45" stroke="#8c8c8c" stroke-width="0.7"/>
<line x1="166.20" y1="83.27" x2="167.40" y2="83.27" stroke="#8c8c8c" stroke-width="0.7"/>
<line x1="268.60" y1="83.27" x2="267.40" y2="83.27" stroke="#8c8c8c" stroke-width="0.7"/>
<line x1="166.20" y1="74.09" x2="167.40" y2="74.09" stroke="#8c8c8c" stroke-width="0.7"/>
<line x1="268.60" y1="74.09" x2="267.40" y2="74.09" stroke="#8c8c8c" stroke-width="0.7"/>
<rect x="166.20" y="69.50" width="102.40" height="45.90" fill="none" stroke="#8c8c8c" stroke-width="0.95"/>
<text transform="translate(176.44,124.65) scale(0.24,0.275)" text-anchor="middle" class="t">-20</text>
<text transform="translate(196.92,124.65) scale(0.24,0.275)" text-anchor="middle" class="t">-10</text>
<text transform="translate(217.40,124.65) scale(0.24,0.275)" text-anchor="middle" class="t">0</text>
<text transform="translate(237.88,124.65) scale(0.24,0.275)" text-anchor="middle" class="t">10</text>
<text transform="translate(258.36,124.65) scale(0.24,0.275)" text-anchor="middle" class="t">20</text>
<text transform="translate(163.50,113.96) scale(0.24,0.275)" text-anchor="end" class="t">-200</text>
<text transform="translate(163.50,104.78) scale(0.24,0.275)" text-anchor="end" class="t">-100</text>
<text transform="translate(163.50,95.60) scale(0.24,0.275)" text-anchor="end" class="t">0</text>
<text transform="translate(163.50,86.42) scale(0.24,0.275)" text-anchor="end" class="t">100</text>
<text transform="translate(163.50,77.24) scale(0.24,0.275)" text-anchor="end" class="t">200</text>
<line x1="311.91" y1="70.40" x2="311.91" y2="116.10" stroke="#dddddd" stroke-width="0.6"/>
<line x1="332.93" y1="70.40" x2="332.93" y2="116.10" stroke="#dddddd" stroke-width="0.6"/>
<line x1="353.95" y1="70.40" x2="353.95" y2="116.10" stroke="#dddddd" stroke-width="0.6"/>
<line x1="374.97" y1="70.40" x2="374.97" y2="116.10" stroke="#dddddd" stroke-width="0.6"/>
<line x1="395.99" y1="70.40" x2="395.99" y2="116.10" stroke="#dddddd" stroke-width="0.6"/>
<line x1="301.40" y1="104.67" x2="406.50" y2="104.67" stroke="#dddddd" stroke-width="0.6"/>
<line x1="301.40" y1="93.25" x2="406.50" y2="93.25" stroke="#dddddd" stroke-width="0.6"/>
<line x1="301.40" y1="81.83" x2="406.50" y2="81.83" stroke="#dddddd" stroke-width="0.6"/>
<path d="M322.70,75.10 L325.30,74.10 L327.20,76.00 L329.10,74.40 L330.40,77.60 L331.70,79.60 L333.60,78.90 L335.60,80.90 L337.00,82.50 L337.50,82.90 L340.10,84.60 L342.80,85.50 L345.40,84.60 L347.10,85.50 L349.80,84.60 L352.60,85.50 L354.40,88.20 L357.00,87.30 L359.60,89.00 L362.30,89.90 L364.90,90.80 L366.60,93.40 L367.50,96.00 L368.40,99.50 L370.20,101.30 L372.80,103.00 L375.40,103.90 L378.00,107.00 L380.00,109.00 L382.40,110.00 L385.00,109.20 L387.70,110.00 L390.30,108.30 L393.00,109.50 L395.60,107.40 L398.20,109.20 L395.00,109.50 L390.00,108.50 L385.00,108.30 L380.00,108.00 L376.30,105.70 L373.70,104.80 L371.00,103.00 L368.40,101.30 L365.80,99.50 L363.10,100.40 L360.50,98.70 L357.90,97.80 L355.30,96.90 L352.60,95.20 L350.00,96.90 L348.00,95.10 L346.30,93.40 L344.50,94.30 L342.80,91.60 L341.00,88.10 L338.40,84.60 L336.00,82.50" fill="none" stroke="#e979cc" stroke-width="1.6875" stroke-linejoin="round" stroke-linecap="round"/>
<path d="M312.66,75.80 L312.59,77.27 L312.02,78.13 L311.39,77.63 L310.85,77.11 L310.88,75.76 L311.37,74.41 L312.42,73.77 L313.54,73.68 L314.62,74.33 L315.13,75.72 L315.22,77.20 L314.62,77.92 L313.92,78.02 L313.15,77.39 L313.12,75.69 L313.67,73.98 L314.84,72.75 L316.30,72.94 L317.42,74.07 L318.32,75.65 L318.12,77.43 L317.40,78.55 L316.43,78.50 L315.61,77.50 L315.75,75.61 L316.26,73.87 L317.55,73.08 L318.90,73.01 L320.04,74.00 L320.45,75.58 L320.30,76.86 L319.88,77.82 L319.16,77.90 L318.69,76.92 L318.74,75.54 L319.23,74.17 L320.31,73.61 L321.38,73.60 L322.36,74.26 L323.10,75.50" fill="none" stroke="#e979cc" stroke-width="1.215" stroke-linejoin="round" stroke-linecap="round"/>
<path d="M391.96,108.30 L391.88,109.53 L391.18,109.99 L390.41,110.42 L389.96,109.37 L389.63,108.27 L390.22,107.15 L390.96,106.07 L392.08,106.32 L393.15,106.85 L393.66,108.24 L393.51,109.70 L392.71,110.47 L391.73,110.72 L390.86,109.81 L390.94,108.21 L391.26,106.72 L392.26,105.57 L393.62,105.67 L394.63,106.72 L395.06,108.18 L395.06,109.79 L394.09,110.33 L393.14,110.63 L392.32,109.69 L392.39,108.15 L392.81,106.82 L393.78,106.04 L394.93,105.96 L395.82,106.87 L396.43,108.12 L396.22,109.49 L395.42,109.99 L394.62,110.23 L394.22,109.13 L394.13,108.09 L394.36,106.90 L395.22,106.12 L396.28,106.12 L397.22,106.81 L397.60,108.06 L397.27,109.08 L396.83,109.96 L396.04,110.06 L395.65,109.04 L395.38,108.03 L395.88,106.96 L396.67,106.27 L397.68,106.05 L398.66,106.71 L399.25,108.00" fill="none" stroke="#e979cc" stroke-width="1.35" stroke-linejoin="round" stroke-linecap="round"/>
<line x1="311.91" y1="116.10" x2="311.91" y2="114.90" stroke="#8c8c8c" stroke-width="0.7"/>
<line x1="311.91" y1="70.40" x2="311.91" y2="71.60" stroke="#8c8c8c" stroke-width="0.7"/>
<line x1="332.93" y1="116.10" x2="332.93" y2="114.90" stroke="#8c8c8c" stroke-width="0.7"/>
<line x1="332.93" y1="70.40" x2="332.93" y2="71.60" stroke="#8c8c8c" stroke-width="0.7"/>
<line x1="353.95" y1="116.10" x2="353.95" y2="114.90" stroke="#8c8c8c" stroke-width="0.7"/>
<line x1="353.95" y1="70.40" x2="353.95" y2="71.60" stroke="#8c8c8c" stroke-width="0.7"/>
<line x1="374.97" y1="116.10" x2="374.97" y2="114.90" stroke="#8c8c8c" stroke-width="0.7"/>
<line x1="374.97" y1="70.40" x2="374.97" y2="71.60" stroke="#8c8c8c" stroke-width="0.7"/>
<line x1="395.99" y1="116.10" x2="395.99" y2="114.90" stroke="#8c8c8c" stroke-width="0.7"/>
<line x1="395.99" y1="70.40" x2="395.99" y2="71.60" stroke="#8c8c8c" stroke-width="0.7"/>
<line x1="301.40" y1="116.10" x2="302.60" y2="116.10" stroke="#8c8c8c" stroke-width="0.7"/>
<line x1="406.50" y1="116.10" x2="405.30" y2="116.10" stroke="#8c8c8c" stroke-width="0.7"/>
<line x1="301.40" y1="104.67" x2="302.60" y2="104.67" stroke="#8c8c8c" stroke-width="0.7"/>
<line x1="406.50" y1="104.67" x2="405.30" y2="104.67" stroke="#8c8c8c" stroke-width="0.7"/>
<line x1="301.40" y1="93.25" x2="302.60" y2="93.25" stroke="#8c8c8c" stroke-width="0.7"/>
<line x1="406.50" y1="93.25" x2="405.30" y2="93.25" stroke="#8c8c8c" stroke-width="0.7"/>
<line x1="301.40" y1="81.83" x2="302.60" y2="81.83" stroke="#8c8c8c" stroke-width="0.7"/>
<line x1="406.50" y1="81.83" x2="405.30" y2="81.83" stroke="#8c8c8c" stroke-width="0.7"/>
<line x1="301.40" y1="70.40" x2="302.60" y2="70.40" stroke="#8c8c8c" stroke-width="0.7"/>
<line x1="406.50" y1="70.40" x2="405.30" y2="70.40" stroke="#8c8c8c" stroke-width="0.7"/>
<rect x="301.40" y="70.40" width="105.10" height="45.70" fill="none" stroke="#8c8c8c" stroke-width="0.95"/>
<text transform="translate(311.91,125.70) scale(0.24,0.275)" text-anchor="middle" class="tb">-20</text>
<text transform="translate(332.93,125.70) scale(0.24,0.275)" text-anchor="middle" class="tb">-10</text>
<text transform="translate(353.95,125.70) scale(0.24,0.275)" text-anchor="middle" class="tb">0</text>
<text transform="translate(374.97,125.70) scale(0.24,0.275)" text-anchor="middle" class="tb">10</text>
<text transform="translate(395.99,125.70) scale(0.24,0.275)" text-anchor="middle" class="tb">20</text>
<text transform="translate(298.70,119.05) scale(0.24,0.275)" text-anchor="end" class="tb">-120</text>
<text transform="translate(298.70,107.62) scale(0.24,0.275)" text-anchor="end" class="tb">-60</text>
<text transform="translate(298.70,96.20) scale(0.24,0.275)" text-anchor="end" class="tb">0</text>
<text transform="translate(298.70,84.78) scale(0.24,0.275)" text-anchor="end" class="tb">60</text>
<text transform="translate(298.70,73.35) scale(0.24,0.275)" text-anchor="end" class="tb">120</text>
<text transform="translate(281.50,93.25) rotate(-90)" x="0" y="0" text-anchor="middle" class="lb">Current (A)</text>
<line x1="449.92" y1="70.40" x2="449.92" y2="116.10" stroke="#dddddd" stroke-width="0.6"/>
<line x1="470.96" y1="70.40" x2="470.96" y2="116.10" stroke="#dddddd" stroke-width="0.6"/>
<line x1="492.00" y1="70.40" x2="492.00" y2="116.10" stroke="#dddddd" stroke-width="0.6"/>
<line x1="513.04" y1="70.40" x2="513.04" y2="116.10" stroke="#dddddd" stroke-width="0.6"/>
<line x1="534.08" y1="70.40" x2="534.08" y2="116.10" stroke="#dddddd" stroke-width="0.6"/>
<line x1="439.40" y1="104.67" x2="544.60" y2="104.67" stroke="#dddddd" stroke-width="0.6"/>
<line x1="439.40" y1="93.25" x2="544.60" y2="93.25" stroke="#dddddd" stroke-width="0.6"/>
<line x1="439.40" y1="81.83" x2="544.60" y2="81.83" stroke="#dddddd" stroke-width="0.6"/>
<path d="M456.30,79.40 L458.90,79.90 L461.50,78.90 L464.10,80.30 L466.80,79.40 L468.50,81.10 L470.30,82.00 L472.90,82.90 L474.60,84.10 L476.40,84.10 L479.00,85.50 L481.60,86.40 L484.30,85.50 L486.90,86.90 L488.00,88.70 L490.60,87.60 L493.30,89.90 L495.90,89.00 L498.50,90.80 L501.10,89.90 L503.80,92.50 L505.50,95.20 L507.30,97.80 L509.00,99.50 L511.70,101.30 L514.30,103.00 L516.90,104.80 L519.50,105.10 L522.20,105.70 L524.80,105.10 L528.00,105.50 L527.00,106.00 L522.00,106.30 L516.90,105.10 L514.30,103.90 L511.70,102.20 L509.00,101.30 L506.40,99.50 L503.80,97.80 L501.10,98.70 L498.50,97.80 L495.90,95.70 L493.30,96.40 L490.60,95.20 L488.00,94.30 L485.10,94.30 L482.50,92.50 L480.80,90.80 L479.00,88.10 L476.40,85.50 L474.60,84.10" fill="none" stroke="#e979cc" stroke-width="1.6875" stroke-linejoin="round" stroke-linecap="round"/>
<path d="M451.12,79.00 L451.18,80.18 L450.39,80.93 L449.43,80.72 L448.49,80.27 L448.32,79.04 L449.01,77.97 L449.90,76.92 L451.27,77.20 L452.37,77.90 L452.92,79.08 L452.75,80.31 L451.85,80.87 L450.84,81.09 L449.98,80.35 L449.91,79.11 L450.36,77.93 L451.50,77.32 L452.77,77.29 L453.58,78.20 L454.05,79.15 L453.91,80.12 L453.22,80.54 L452.43,80.87 L451.86,80.13 L451.96,79.19 L452.20,78.27 L453.11,77.78 L454.11,77.87 L454.93,78.39 L455.48,79.22 L455.24,80.07 L454.79,80.84 L453.95,80.87 L453.39,80.19 L452.90,79.26 L453.64,78.30 L454.54,77.62 L455.80,77.32 L456.77,78.20 L457.37,79.30" fill="none" stroke="#e979cc" stroke-width="1.35" stroke-linejoin="round" stroke-linecap="round"/>
<path d="M530.88,105.60 L530.52,107.09 L529.83,108.04 L528.87,108.28 L528.25,107.07 L527.81,105.60 L528.34,103.90 L529.55,103.28 L530.77,102.97 L531.76,104.06 L532.26,105.60 L532.14,107.22 L531.36,108.18 L530.47,107.80 L529.75,107.07 L529.65,105.60 L530.08,104.16 L531.17,103.83 L532.18,103.37 L532.88,104.48 L533.22,105.60 L533.28,106.83 L532.76,107.73 L531.97,107.81 L531.51,106.78 L531.21,105.60 L531.87,104.48 L532.53,103.22 L533.65,103.53 L534.63,104.20 L534.97,105.60 L534.85,106.91 L534.27,107.75 L533.40,108.13 L532.65,107.18 L532.33,105.60 L532.82,103.88 L533.99,103.03 L535.31,102.79 L536.24,104.08 L536.97,105.60" fill="none" stroke="#e979cc" stroke-width="1.35" stroke-linejoin="round" stroke-linecap="round"/>
<line x1="449.92" y1="116.10" x2="449.92" y2="114.90" stroke="#8c8c8c" stroke-width="0.7"/>
<line x1="449.92" y1="70.40" x2="449.92" y2="71.60" stroke="#8c8c8c" stroke-width="0.7"/>
<line x1="470.96" y1="116.10" x2="470.96" y2="114.90" stroke="#8c8c8c" stroke-width="0.7"/>
<line x1="470.96" y1="70.40" x2="470.96" y2="71.60" stroke="#8c8c8c" stroke-width="0.7"/>
<line x1="492.00" y1="116.10" x2="492.00" y2="114.90" stroke="#8c8c8c" stroke-width="0.7"/>
<line x1="492.00" y1="70.40" x2="492.00" y2="71.60" stroke="#8c8c8c" stroke-width="0.7"/>
<line x1="513.04" y1="116.10" x2="513.04" y2="114.90" stroke="#8c8c8c" stroke-width="0.7"/>
<line x1="513.04" y1="70.40" x2="513.04" y2="71.60" stroke="#8c8c8c" stroke-width="0.7"/>
<line x1="534.08" y1="116.10" x2="534.08" y2="114.90" stroke="#8c8c8c" stroke-width="0.7"/>
<line x1="534.08" y1="70.40" x2="534.08" y2="71.60" stroke="#8c8c8c" stroke-width="0.7"/>
<line x1="439.40" y1="116.10" x2="440.60" y2="116.10" stroke="#8c8c8c" stroke-width="0.7"/>
<line x1="544.60" y1="116.10" x2="543.40" y2="116.10" stroke="#8c8c8c" stroke-width="0.7"/>
<line x1="439.40" y1="104.67" x2="440.60" y2="104.67" stroke="#8c8c8c" stroke-width="0.7"/>
<line x1="544.60" y1="104.67" x2="543.40" y2="104.67" stroke="#8c8c8c" stroke-width="0.7"/>
<line x1="439.40" y1="93.25" x2="440.60" y2="93.25" stroke="#8c8c8c" stroke-width="0.7"/>
<line x1="544.60" y1="93.25" x2="543.40" y2="93.25" stroke="#8c8c8c" stroke-width="0.7"/>
<line x1="439.40" y1="81.83" x2="440.60" y2="81.83" stroke="#8c8c8c" stroke-width="0.7"/>
<line x1="544.60" y1="81.83" x2="543.40" y2="81.83" stroke="#8c8c8c" stroke-width="0.7"/>
<line x1="439.40" y1="70.40" x2="440.60" y2="70.40" stroke="#8c8c8c" stroke-width="0.7"/>
<line x1="544.60" y1="70.40" x2="543.40" y2="70.40" stroke="#8c8c8c" stroke-width="0.7"/>
<rect x="439.40" y="70.40" width="105.20" height="45.70" fill="none" stroke="#8c8c8c" stroke-width="0.95"/>
<text transform="translate(449.92,125.70) scale(0.24,0.275)" text-anchor="middle" class="tb">-20</text>
<text transform="translate(470.96,125.70) scale(0.24,0.275)" text-anchor="middle" class="tb">-10</text>
<text transform="translate(492.00,125.70) scale(0.24,0.275)" text-anchor="middle" class="tb">0</text>
<text transform="translate(513.04,125.70) scale(0.24,0.275)" text-anchor="middle" class="tb">10</text>
<text transform="translate(534.08,125.70) scale(0.24,0.275)" text-anchor="middle" class="tb">20</text>
<text transform="translate(436.70,119.05) scale(0.24,0.275)" text-anchor="end" class="tb">-200</text>
<text transform="translate(436.70,107.62) scale(0.24,0.275)" text-anchor="end" class="tb">-100</text>
<text transform="translate(436.70,96.20) scale(0.24,0.275)" text-anchor="end" class="tb">0</text>
<text transform="translate(436.70,84.78) scale(0.24,0.275)" text-anchor="end" class="tb">100</text>
<text transform="translate(436.70,73.35) scale(0.24,0.275)" text-anchor="end" class="tb">200</text>
<line x1="42.02" y1="132.50" x2="42.02" y2="178.40" stroke="#dddddd" stroke-width="0.6"/>
<line x1="62.46" y1="132.50" x2="62.46" y2="178.40" stroke="#dddddd" stroke-width="0.6"/>
<line x1="82.90" y1="132.50" x2="82.90" y2="178.40" stroke="#dddddd" stroke-width="0.6"/>
<line x1="103.34" y1="132.50" x2="103.34" y2="178.40" stroke="#dddddd" stroke-width="0.6"/>
<line x1="123.78" y1="132.50" x2="123.78" y2="178.40" stroke="#dddddd" stroke-width="0.6"/>
<line x1="31.80" y1="166.93" x2="134.00" y2="166.93" stroke="#dddddd" stroke-width="0.6"/>
<line x1="31.80" y1="155.45" x2="134.00" y2="155.45" stroke="#dddddd" stroke-width="0.6"/>
<line x1="31.80" y1="143.97" x2="134.00" y2="143.97" stroke="#dddddd" stroke-width="0.6"/>
<path d="M41.84,173.93 L42.92,172.67 L44.03,171.00 L44.76,170.37 L45.68,168.78 L46.70,167.78 L47.57,166.88 L48.43,165.76 L49.33,165.36 L50.47,164.70 L51.67,163.66 L52.85,163.46 L53.92,162.67 L55.21,162.58 L56.35,162.47 L57.51,162.03 L58.61,161.48 L59.79,161.10 L61.05,160.08 L62.06,159.74 L63.40,159.46 L65.08,159.11 L66.80,158.92 L68.52,159.26 L70.32,159.68 L71.64,159.35 L72.97,159.04 L74.24,158.16 L75.58,158.43 L76.45,157.28 L77.28,156.16 L78.17,155.55 L79.22,154.56 L80.51,154.58 L81.51,153.81 L83.48,152.16 L84.62,151.99 L85.91,150.88 L87.02,150.28 L88.21,150.08 L89.41,150.14 L90.50,149.75 L91.63,148.50 L92.85,147.87 L93.94,147.54 L95.19,146.96 L96.24,147.06 L97.46,146.72 L98.75,145.85 L99.83,145.48 L101.03,145.07 L102.18,144.78 L103.43,144.40 L104.49,144.25 L106.19,143.56 L108.10,143.31 L109.18,142.49 L110.32,142.42 L111.40,141.98 L112.69,141.16 L113.86,141.01 L115.04,140.50 L116.21,140.37 L117.23,139.49 L118.54,139.72 L119.61,138.80 L120.85,138.14 L121.97,137.57 L123.47,136.87 L124.96,135.81 L124.66,136.27 L123.31,137.91 L121.96,138.71 L121.19,139.59 L120.18,140.60 L119.42,141.25 L118.46,142.28 L117.40,143.22 L116.24,143.90 L114.97,145.11 L113.91,145.57 L112.61,145.93 L111.51,146.58 L110.40,147.50 L109.10,147.58 L108.06,148.30 L106.90,148.49 L105.59,148.85 L104.56,149.24 L103.30,149.64 L102.15,149.94 L101.09,150.06 L99.15,151.01 L97.58,151.44 L96.32,151.72 L95.26,151.51 L94.05,152.24 L92.87,152.48 L91.62,152.82 L90.44,153.10 L89.35,153.95 L88.23,154.48 L87.08,155.64 L85.92,156.38 L84.75,156.75 L83.40,157.47 L82.26,157.73 L81.20,158.45 L79.98,159.31 L78.12,159.79 L76.88,160.72 L75.76,161.23 L74.57,161.39 L73.44,162.26 L72.20,162.67 L71.19,163.11 L70.00,163.02 L68.79,164.09 L67.51,164.14 L66.38,164.79 L65.25,165.21 L64.16,165.35 L62.84,165.84 L61.69,166.20 L60.70,167.15 L59.35,167.20 L58.23,167.37 L57.07,167.90 L55.37,168.10 L53.54,168.48 L52.35,169.07 L51.31,169.38 L50.01,169.67 L48.91,170.44 L47.83,170.75 L46.66,171.39 L45.42,171.78 L44.27,172.58 L43.08,173.14 L41.89,173.72" fill="none" stroke="#ff4a00" stroke-width="1.7550000000000001" stroke-linejoin="round" stroke-linecap="round"/>
<line x1="42.02" y1="178.40" x2="42.02" y2="177.20" stroke="#8c8c8c" stroke-width="0.7"/>
<line x1="42.02" y1="132.50" x2="42.02" y2="133.70" stroke="#8c8c8c" stroke-width="0.7"/>
<line x1="62.46" y1="178.40" x2="62.46" y2="177.20" stroke="#8c8c8c" stroke-width="0.7"/>
<line x1="62.46" y1="132.50" x2="62.46" y2="133.70" stroke="#8c8c8c" stroke-width="0.7"/>
<line x1="82.90" y1="178.40" x2="82.90" y2="177.20" stroke="#8c8c8c" stroke-width="0.7"/>
<line x1="82.90" y1="132.50" x2="82.90" y2="133.70" stroke="#8c8c8c" stroke-width="0.7"/>
<line x1="103.34" y1="178.40" x2="103.34" y2="177.20" stroke="#8c8c8c" stroke-width="0.7"/>
<line x1="103.34" y1="132.50" x2="103.34" y2="133.70" stroke="#8c8c8c" stroke-width="0.7"/>
<line x1="123.78" y1="178.40" x2="123.78" y2="177.20" stroke="#8c8c8c" stroke-width="0.7"/>
<line x1="123.78" y1="132.50" x2="123.78" y2="133.70" stroke="#8c8c8c" stroke-width="0.7"/>
<line x1="31.80" y1="178.40" x2="33.00" y2="178.40" stroke="#8c8c8c" stroke-width="0.7"/>
<line x1="134.00" y1="178.40" x2="132.80" y2="178.40" stroke="#8c8c8c" stroke-width="0.7"/>
<line x1="31.80" y1="166.93" x2="33.00" y2="166.93" stroke="#8c8c8c" stroke-width="0.7"/>
<line x1="134.00" y1="166.93" x2="132.80" y2="166.93" stroke="#8c8c8c" stroke-width="0.7"/>
<line x1="31.80" y1="155.45" x2="33.00" y2="155.45" stroke="#8c8c8c" stroke-width="0.7"/>
<line x1="134.00" y1="155.45" x2="132.80" y2="155.45" stroke="#8c8c8c" stroke-width="0.7"/>
<line x1="31.80" y1="143.97" x2="33.00" y2="143.97" stroke="#8c8c8c" stroke-width="0.7"/>
<line x1="134.00" y1="143.97" x2="132.80" y2="143.97" stroke="#8c8c8c" stroke-width="0.7"/>
<line x1="31.80" y1="132.50" x2="33.00" y2="132.50" stroke="#8c8c8c" stroke-width="0.7"/>
<line x1="134.00" y1="132.50" x2="132.80" y2="132.50" stroke="#8c8c8c" stroke-width="0.7"/>
<rect x="31.80" y="132.50" width="102.20" height="45.90" fill="none" stroke="#8c8c8c" stroke-width="0.95"/>
<text transform="translate(42.02,187.65) scale(0.24,0.275)" text-anchor="middle" class="t">-20</text>
<text transform="translate(62.46,187.65) scale(0.24,0.275)" text-anchor="middle" class="t">-10</text>
<text transform="translate(82.90,187.65) scale(0.24,0.275)" text-anchor="middle" class="t">0</text>
<text transform="translate(103.34,187.65) scale(0.24,0.275)" text-anchor="middle" class="t">10</text>
<text transform="translate(123.78,187.65) scale(0.24,0.275)" text-anchor="middle" class="t">20</text>
<text transform="translate(29.10,181.55) scale(0.24,0.275)" text-anchor="end" class="t">-300</text>
<text transform="translate(29.10,170.08) scale(0.24,0.275)" text-anchor="end" class="t">-150</text>
<text transform="translate(29.10,158.60) scale(0.24,0.275)" text-anchor="end" class="t">0</text>
<text transform="translate(29.10,147.12) scale(0.24,0.275)" text-anchor="end" class="t">150</text>
<text transform="translate(29.10,135.65) scale(0.24,0.275)" text-anchor="end" class="t">300</text>
<text transform="translate(11.60,155.45) rotate(-90)" x="0" y="0" text-anchor="middle" class="l">Current (A)</text>
<line x1="176.44" y1="132.50" x2="176.44" y2="178.40" stroke="#dddddd" stroke-width="0.6"/>
<line x1="196.92" y1="132.50" x2="196.92" y2="178.40" stroke="#dddddd" stroke-width="0.6"/>
<line x1="217.40" y1="132.50" x2="217.40" y2="178.40" stroke="#dddddd" stroke-width="0.6"/>
<line x1="237.88" y1="132.50" x2="237.88" y2="178.40" stroke="#dddddd" stroke-width="0.6"/>
<line x1="258.36" y1="132.50" x2="258.36" y2="178.40" stroke="#dddddd" stroke-width="0.6"/>
<line x1="166.20" y1="166.93" x2="268.60" y2="166.93" stroke="#dddddd" stroke-width="0.6"/>
<line x1="166.20" y1="155.45" x2="268.60" y2="155.45" stroke="#dddddd" stroke-width="0.6"/>
<line x1="166.20" y1="143.97" x2="268.60" y2="143.97" stroke="#dddddd" stroke-width="0.6"/>
<path d="M175.85,171.86 L176.93,170.79 L177.92,169.84 L178.94,169.08 L179.78,167.73 L180.61,166.77 L181.71,165.80 L182.88,165.42 L184.16,164.48 L185.32,163.52 L186.40,163.18 L187.64,162.71 L188.84,161.79 L189.95,161.67 L191.10,160.91 L192.26,160.45 L193.51,160.52 L194.61,159.78 L195.84,159.64 L197.00,159.51 L198.10,158.95 L199.87,158.81 L201.54,158.58 L203.41,158.13 L205.02,158.18 L206.41,158.12 L207.79,158.01 L209.19,157.07 L210.38,156.22 L211.62,155.40 L212.77,154.81 L213.97,153.84 L215.24,153.09 L216.25,152.70 L217.55,152.47 L218.62,151.70 L219.78,151.18 L220.92,150.72 L222.24,150.47 L223.38,150.08 L224.41,149.27 L225.75,149.17 L226.82,148.87 L228.02,148.39 L229.13,147.65 L230.32,147.25 L231.48,147.38 L233.22,146.46 L234.92,146.20 L236.22,145.98 L237.30,145.49 L238.59,145.35 L240.20,144.79 L241.92,144.50 L243.20,144.12 L244.25,143.96 L245.45,143.90 L247.18,143.27 L249.05,142.85 L250.25,142.55 L251.29,142.18 L252.42,141.85 L253.62,141.70 L254.89,141.03 L255.92,140.45 L257.02,139.86 L258.08,139.69 L259.14,138.63 L258.68,139.84 L257.82,140.61 L256.94,141.63 L256.05,142.55 L254.83,143.02 L253.61,144.36 L252.57,145.25 L251.30,145.56 L250.22,146.02 L249.06,146.42 L247.86,146.91 L246.62,147.45 L245.58,147.34 L244.42,148.34 L243.20,148.26 L242.07,148.78 L240.92,149.53 L239.59,149.67 L238.52,150.34 L236.79,150.96 L234.95,150.80 L233.91,151.11 L232.73,151.47 L231.56,152.17 L230.40,152.33 L229.23,152.42 L228.03,152.80 L226.90,153.36 L225.66,153.52 L224.41,153.52 L223.35,154.36 L222.23,155.00 L220.93,155.42 L219.88,156.11 L218.58,156.90 L217.56,157.05 L216.34,157.80 L215.22,158.32 L213.95,158.99 L212.18,159.66 L210.86,160.37 L209.84,160.71 L208.59,161.31 L207.48,161.31 L206.34,161.85 L205.06,162.70 L203.92,163.15 L202.71,163.66 L201.54,163.69 L200.43,164.20 L199.27,164.94 L198.14,164.80 L196.90,165.43 L195.76,165.83 L194.60,165.75 L193.39,166.51 L192.24,166.76 L191.19,166.98 L189.97,167.27 L188.73,167.75 L187.59,168.05 L185.82,168.42 L184.15,168.67 L182.92,168.82 L181.82,169.38 L180.63,169.68 L179.36,170.25 L178.32,170.84 L177.17,171.52 L175.91,172.01" fill="none" stroke="#ff4a00" stroke-width="1.7550000000000001" stroke-linejoin="round" stroke-linecap="round"/>
<line x1="176.44" y1="178.40" x2="176.44" y2="177.20" stroke="#8c8c8c" stroke-width="0.7"/>
<line x1="176.44" y1="132.50" x2="176.44" y2="133.70" stroke="#8c8c8c" stroke-width="0.7"/>
<line x1="196.92" y1="178.40" x2="196.92" y2="177.20" stroke="#8c8c8c" stroke-width="0.7"/>
<line x1="196.92" y1="132.50" x2="196.92" y2="133.70" stroke="#8c8c8c" stroke-width="0.7"/>
<line x1="217.40" y1="178.40" x2="217.40" y2="177.20" stroke="#8c8c8c" stroke-width="0.7"/>
<line x1="217.40" y1="132.50" x2="217.40" y2="133.70" stroke="#8c8c8c" stroke-width="0.7"/>
<line x1="237.88" y1="178.40" x2="237.88" y2="177.20" stroke="#8c8c8c" stroke-width="0.7"/>
<line x1="237.88" y1="132.50" x2="237.88" y2="133.70" stroke="#8c8c8c" stroke-width="0.7"/>
<line x1="258.36" y1="178.40" x2="258.36" y2="177.20" stroke="#8c8c8c" stroke-width="0.7"/>
<line x1="258.36" y1="132.50" x2="258.36" y2="133.70" stroke="#8c8c8c" stroke-width="0.7"/>
<line x1="166.20" y1="178.40" x2="167.40" y2="178.40" stroke="#8c8c8c" stroke-width="0.7"/>
<line x1="268.60" y1="178.40" x2="267.40" y2="178.40" stroke="#8c8c8c" stroke-width="0.7"/>
<line x1="166.20" y1="166.93" x2="167.40" y2="166.93" stroke="#8c8c8c" stroke-width="0.7"/>
<line x1="268.60" y1="166.93" x2="267.40" y2="166.93" stroke="#8c8c8c" stroke-width="0.7"/>
<line x1="166.20" y1="155.45" x2="167.40" y2="155.45" stroke="#8c8c8c" stroke-width="0.7"/>
<line x1="268.60" y1="155.45" x2="267.40" y2="155.45" stroke="#8c8c8c" stroke-width="0.7"/>
<line x1="166.20" y1="143.97" x2="167.40" y2="143.97" stroke="#8c8c8c" stroke-width="0.7"/>
<line x1="268.60" y1="143.97" x2="267.40" y2="143.97" stroke="#8c8c8c" stroke-width="0.7"/>
<line x1="166.20" y1="132.50" x2="167.40" y2="132.50" stroke="#8c8c8c" stroke-width="0.7"/>
<line x1="268.60" y1="132.50" x2="267.40" y2="132.50" stroke="#8c8c8c" stroke-width="0.7"/>
<rect x="166.20" y="132.50" width="102.40" height="45.90" fill="none" stroke="#8c8c8c" stroke-width="0.95"/>
<text transform="translate(176.44,187.65) scale(0.24,0.275)" text-anchor="middle" class="t">-20</text>
<text transform="translate(196.92,187.65) scale(0.24,0.275)" text-anchor="middle" class="t">-10</text>
<text transform="translate(217.40,187.65) scale(0.24,0.275)" text-anchor="middle" class="t">0</text>
<text transform="translate(237.88,187.65) scale(0.24,0.275)" text-anchor="middle" class="t">10</text>
<text transform="translate(258.36,187.65) scale(0.24,0.275)" text-anchor="middle" class="t">20</text>
<text transform="translate(163.50,181.55) scale(0.24,0.275)" text-anchor="end" class="t">-500</text>
<text transform="translate(163.50,170.08) scale(0.24,0.275)" text-anchor="end" class="t">-250</text>
<text transform="translate(163.50,158.60) scale(0.24,0.275)" text-anchor="end" class="t">0</text>
<text transform="translate(163.50,147.12) scale(0.24,0.275)" text-anchor="end" class="t">250</text>
<text transform="translate(163.50,135.65) scale(0.24,0.275)" text-anchor="end" class="t">500</text>
<line x1="311.91" y1="133.40" x2="311.91" y2="179.10" stroke="#dddddd" stroke-width="0.6"/>
<line x1="332.93" y1="133.40" x2="332.93" y2="179.10" stroke="#dddddd" stroke-width="0.6"/>
<line x1="353.95" y1="133.40" x2="353.95" y2="179.10" stroke="#dddddd" stroke-width="0.6"/>
<line x1="374.97" y1="133.40" x2="374.97" y2="179.10" stroke="#dddddd" stroke-width="0.6"/>
<line x1="395.99" y1="133.40" x2="395.99" y2="179.10" stroke="#dddddd" stroke-width="0.6"/>
<line x1="301.40" y1="174.53" x2="406.50" y2="174.53" stroke="#dddddd" stroke-width="0.6"/>
<line x1="301.40" y1="165.39" x2="406.50" y2="165.39" stroke="#dddddd" stroke-width="0.6"/>
<line x1="301.40" y1="156.25" x2="406.50" y2="156.25" stroke="#dddddd" stroke-width="0.6"/>
<line x1="301.40" y1="147.11" x2="406.50" y2="147.11" stroke="#dddddd" stroke-width="0.6"/>
<line x1="301.40" y1="137.97" x2="406.50" y2="137.97" stroke="#dddddd" stroke-width="0.6"/>
<path d="M310.39,138.31 L311.62,138.31 L312.90,137.70 L314.83,137.76 L316.51,138.48 L317.57,138.65 L318.88,139.03 L320.05,139.16 L321.69,139.48 L323.50,140.40 L324.69,140.66 L325.81,141.01 L326.92,141.05 L328.34,141.96 L329.58,142.11 L330.90,142.80 L332.25,143.82 L333.40,144.34 L334.71,144.22 L335.77,144.99 L336.87,145.25 L338.22,145.33 L339.32,145.63 L340.48,146.48 L341.57,146.16 L342.71,146.83 L343.87,146.98 L345.13,148.03 L346.28,148.13 L347.56,148.62 L348.78,149.37 L350.02,150.62 L351.21,150.49 L352.62,150.35 L353.90,151.65 L355.40,151.73 L356.64,152.77 L357.84,152.98 L359.10,153.06 L360.54,153.46 L361.86,153.76 L363.07,154.95 L364.47,155.07 L365.78,155.84 L366.67,156.51 L367.56,158.08 L368.84,159.10 L370.19,160.28 L371.41,161.54 L372.72,162.70 L374.00,163.60 L375.46,164.30 L376.74,164.97 L378.05,165.95 L379.29,167.37 L380.68,168.01 L382.08,168.71 L383.34,169.27 L384.67,169.78 L385.81,170.73 L387.13,170.71 L388.60,170.47 L390.15,170.39 L391.94,170.92 L393.37,171.48 L394.67,171.05 L396.01,171.75 L397.21,172.74 L397.34,172.80 L395.54,173.39 L393.86,173.32 L392.13,173.02 L390.35,173.29 L389.08,172.90 L387.62,172.38 L386.36,171.97 L385.03,171.41 L383.89,171.07 L382.56,170.61 L381.49,170.44 L380.18,169.57 L378.90,169.51 L377.61,168.96 L376.20,168.45 L375.08,167.78 L373.70,167.43 L372.44,166.40 L371.03,166.03 L369.66,165.76 L368.45,164.92 L367.14,164.72 L365.80,164.40 L364.36,163.92 L363.07,163.67 L361.74,163.03 L360.55,162.29 L359.28,161.33 L357.92,161.18 L356.64,160.68 L355.21,160.18 L353.97,159.33 L352.51,158.60 L351.29,158.87 L349.90,159.19 L348.87,158.30 L347.50,157.57 L346.32,156.73 L345.05,156.03 L343.52,155.09 L342.24,154.25 L340.94,152.70 L339.62,151.48 L338.49,150.93 L337.07,149.72 L335.79,148.52 L334.42,147.54 L333.04,146.23 L331.80,145.49 L330.49,145.31 L329.55,143.87 L328.86,142.99 L327.58,143.25 L326.49,142.50 L325.21,142.24 L324.09,142.31 L323.07,142.00 L321.88,141.80 L320.13,141.99 L318.40,141.62 L316.51,141.37 L314.82,141.19 L313.60,140.97 L312.45,140.06 L311.25,139.77 L310.42,138.45" fill="none" stroke="#e979cc" stroke-width="1.6875" stroke-linejoin="round" stroke-linecap="round"/>
<path d="M313.12,139.20 L312.88,140.61 L312.01,141.58 L310.92,141.21 L310.23,140.42 L309.78,139.30 L310.54,138.16 L311.60,137.50 L312.88,137.37 L313.73,138.36 L314.46,139.40 L314.09,140.48 L313.38,140.92 L312.57,141.30 L312.00,140.51 L312.09,139.50 L312.24,138.42 L313.25,137.79 L314.44,137.81 L315.42,138.50 L316.08,139.60 L315.58,140.56 L315.16,141.65 L314.18,141.57 L313.54,140.78 L313.17,139.70 L313.75,138.53 L314.77,137.63 L316.19,137.58 L317.35,138.46 L317.74,139.80 L317.66,141.13 L316.81,141.93 L315.69,142.16 L314.70,141.35 L314.52,139.90 L315.20,138.59 L316.44,137.98 L317.81,137.80 L318.80,138.80 L319.58,140.00" fill="none" stroke="#e979cc" stroke-width="1.35" stroke-linejoin="round" stroke-linecap="round"/>
<path d="M391.21,171.50 L391.03,172.62 L390.41,173.50 L389.51,173.30 L388.92,172.64 L388.68,171.65 L389.22,170.63 L390.23,170.13 L391.34,170.11 L392.42,170.65 L392.59,171.80 L392.50,172.75 L391.95,173.26 L391.27,173.39 L390.78,172.81 L390.29,171.95 L391.02,171.01 L391.84,170.11 L393.01,170.51 L394.20,170.89 L394.57,172.10 L394.52,173.30 L393.80,174.08 L392.89,173.97 L392.20,173.34 L391.81,172.25 L392.51,171.14 L393.56,170.49 L394.90,170.14 L396.09,171.03 L396.52,172.40 L396.43,173.77 L395.63,174.82 L394.50,174.57 L393.74,173.77 L393.42,172.55 L394.07,171.33 L395.18,170.51 L396.52,170.71 L397.84,171.29 L398.41,172.70 L398.00,173.97 L397.21,174.72 L396.26,174.66 L395.34,174.15 L395.19,172.85 L395.84,171.69 L397.00,171.24 L398.14,171.31 L399.26,171.82 L399.48,173.00" fill="none" stroke="#e979cc" stroke-width="1.35" stroke-linejoin="round" stroke-linecap="round"/>
<line x1="311.91" y1="179.10" x2="311.91" y2="177.90" stroke="#8c8c8c" stroke-width="0.7"/>
<line x1="311.91" y1="133.40" x2="311.91" y2="134.60" stroke="#8c8c8c" stroke-width="0.7"/>
<line x1="332.93" y1="179.10" x2="332.93" y2="177.90" stroke="#8c8c8c" stroke-width="0.7"/>
<line x1="332.93" y1="133.40" x2="332.93" y2="134.60" stroke="#8c8c8c" stroke-width="0.7"/>
<line x1="353.95" y1="179.10" x2="353.95" y2="177.90" stroke="#8c8c8c" stroke-width="0.7"/>
<line x1="353.95" y1="133.40" x2="353.95" y2="134.60" stroke="#8c8c8c" stroke-width="0.7"/>
<line x1="374.97" y1="179.10" x2="374.97" y2="177.90" stroke="#8c8c8c" stroke-width="0.7"/>
<line x1="374.97" y1="133.40" x2="374.97" y2="134.60" stroke="#8c8c8c" stroke-width="0.7"/>
<line x1="395.99" y1="179.10" x2="395.99" y2="177.90" stroke="#8c8c8c" stroke-width="0.7"/>
<line x1="395.99" y1="133.40" x2="395.99" y2="134.60" stroke="#8c8c8c" stroke-width="0.7"/>
<line x1="301.40" y1="174.53" x2="302.60" y2="174.53" stroke="#8c8c8c" stroke-width="0.7"/>
<line x1="406.50" y1="174.53" x2="405.30" y2="174.53" stroke="#8c8c8c" stroke-width="0.7"/>
<line x1="301.40" y1="165.39" x2="302.60" y2="165.39" stroke="#8c8c8c" stroke-width="0.7"/>
<line x1="406.50" y1="165.39" x2="405.30" y2="165.39" stroke="#8c8c8c" stroke-width="0.7"/>
<line x1="301.40" y1="156.25" x2="302.60" y2="156.25" stroke="#8c8c8c" stroke-width="0.7"/>
<line x1="406.50" y1="156.25" x2="405.30" y2="156.25" stroke="#8c8c8c" stroke-width="0.7"/>
<line x1="301.40" y1="147.11" x2="302.60" y2="147.11" stroke="#8c8c8c" stroke-width="0.7"/>
<line x1="406.50" y1="147.11" x2="405.30" y2="147.11" stroke="#8c8c8c" stroke-width="0.7"/>
<line x1="301.40" y1="137.97" x2="302.60" y2="137.97" stroke="#8c8c8c" stroke-width="0.7"/>
<line x1="406.50" y1="137.97" x2="405.30" y2="137.97" stroke="#8c8c8c" stroke-width="0.7"/>
<rect x="301.40" y="133.40" width="105.10" height="45.70" fill="none" stroke="#8c8c8c" stroke-width="0.95"/>
<text transform="translate(311.91,188.70) scale(0.24,0.275)" text-anchor="middle" class="tb">-20</text>
<text transform="translate(332.93,188.70) scale(0.24,0.275)" text-anchor="middle" class="tb">-10</text>
<text transform="translate(353.95,188.70) scale(0.24,0.275)" text-anchor="middle" class="tb">0</text>
<text transform="translate(374.97,188.70) scale(0.24,0.275)" text-anchor="middle" class="tb">10</text>
<text transform="translate(395.99,188.70) scale(0.24,0.275)" text-anchor="middle" class="tb">20</text>
<text transform="translate(298.70,177.48) scale(0.24,0.275)" text-anchor="end" class="tb">-200</text>
<text transform="translate(298.70,168.34) scale(0.24,0.275)" text-anchor="end" class="tb">-100</text>
<text transform="translate(298.70,159.20) scale(0.24,0.275)" text-anchor="end" class="tb">0</text>
<text transform="translate(298.70,150.06) scale(0.24,0.275)" text-anchor="end" class="tb">100</text>
<text transform="translate(298.70,140.92) scale(0.24,0.275)" text-anchor="end" class="tb">200</text>
<text transform="translate(281.50,156.25) rotate(-90)" x="0" y="0" text-anchor="middle" class="lb">Current (A)</text>
<line x1="449.92" y1="133.40" x2="449.92" y2="179.10" stroke="#dddddd" stroke-width="0.6"/>
<line x1="470.96" y1="133.40" x2="470.96" y2="179.10" stroke="#dddddd" stroke-width="0.6"/>
<line x1="492.00" y1="133.40" x2="492.00" y2="179.10" stroke="#dddddd" stroke-width="0.6"/>
<line x1="513.04" y1="133.40" x2="513.04" y2="179.10" stroke="#dddddd" stroke-width="0.6"/>
<line x1="534.08" y1="133.40" x2="534.08" y2="179.10" stroke="#dddddd" stroke-width="0.6"/>
<line x1="439.40" y1="167.68" x2="544.60" y2="167.68" stroke="#dddddd" stroke-width="0.6"/>
<line x1="439.40" y1="156.25" x2="544.60" y2="156.25" stroke="#dddddd" stroke-width="0.6"/>
<line x1="439.40" y1="144.82" x2="544.60" y2="144.82" stroke="#dddddd" stroke-width="0.6"/>
<path d="M448.41,140.55 L449.72,140.14 L451.07,140.33 L452.20,140.23 L453.34,140.71 L454.45,141.52 L456.35,141.23 L458.08,141.97 L459.73,142.00 L461.54,142.37 L462.71,142.91 L463.76,143.39 L465.10,143.93 L466.19,143.65 L467.23,144.08 L468.59,144.56 L470.22,145.33 L471.96,145.43 L473.15,145.43 L474.35,146.31 L475.43,146.21 L477.23,146.43 L479.00,147.32 L480.20,147.49 L481.41,147.59 L482.51,148.11 L483.69,148.33 L484.89,148.72 L485.93,149.62 L488.09,150.55 L489.15,150.79 L490.29,151.42 L491.43,151.43 L492.66,151.87 L493.86,152.72 L495.06,152.89 L496.13,153.15 L497.23,153.65 L498.46,153.67 L499.58,154.33 L500.85,154.86 L502.08,155.62 L503.25,156.22 L504.69,156.91 L505.52,157.64 L506.40,158.97 L507.68,159.99 L509.02,161.13 L510.35,161.77 L511.69,163.23 L512.98,163.42 L514.20,164.62 L515.51,165.01 L516.82,165.97 L518.30,166.69 L519.49,167.36 L521.25,167.71 L523.05,168.38 L524.79,168.35 L526.53,168.99 L527.63,168.68 L528.93,169.16 L530.13,169.26 L531.34,169.59 L532.50,170.32 L533.59,170.65 L534.95,171.32 L536.10,171.99 L535.36,172.52 L533.65,171.80 L531.84,171.45 L530.07,171.64 L528.24,170.89 L526.46,170.49 L524.74,170.12 L523.74,170.37 L522.46,169.97 L521.34,169.52 L519.98,168.91 L518.71,167.94 L517.32,167.84 L516.03,167.20 L514.86,167.33 L513.74,166.84 L512.41,166.35 L510.66,165.74 L508.95,165.67 L507.89,165.42 L506.62,165.10 L505.50,164.61 L504.28,164.16 L503.13,163.96 L502.00,163.36 L500.83,162.99 L499.71,162.75 L498.56,162.13 L497.39,162.16 L496.27,161.62 L494.91,161.34 L493.90,160.36 L492.63,160.18 L491.55,159.98 L490.29,159.11 L489.10,158.48 L488.06,158.51 L485.94,157.07 L484.93,156.12 L483.68,155.72 L482.60,155.46 L481.10,154.09 L479.97,153.45 L478.60,152.47 L477.36,151.42 L475.91,149.93 L474.64,149.09 L473.31,148.75 L471.98,147.67 L470.63,146.51 L469.42,146.16 L468.20,144.67 L466.89,144.11 L465.02,143.78 L463.32,143.49 L461.48,143.71 L459.84,143.38 L458.10,143.64 L456.23,143.53 L454.62,142.99 L452.81,142.87 L451.57,142.52 L450.39,142.54 L449.23,141.99 L448.41,140.93" fill="none" stroke="#e979cc" stroke-width="1.6875" stroke-linejoin="round" stroke-linecap="round"/>
<path d="M451.14,141.00 L450.97,141.88 L450.49,142.60 L449.74,142.40 L449.17,141.98 L449.19,141.15 L449.67,140.35 L450.57,139.65 L451.76,140.01 L452.81,140.42 L453.26,141.30 L453.28,142.18 L452.83,143.02 L452.00,142.82 L451.31,142.39 L451.25,141.45 L451.66,140.44 L452.86,139.90 L454.17,140.00 L455.38,140.53 L455.99,141.60 L456.02,142.79 L455.18,143.47 L454.21,143.39 L453.31,142.89 L453.28,141.75 L453.81,140.63 L455.11,140.06 L456.57,140.02 L457.94,140.66 L458.46,141.90 L458.36,143.12 L457.52,143.86 L456.47,143.80 L455.69,143.14 L455.68,142.05 L456.22,141.01 L457.40,140.35 L458.74,140.68 L460.05,141.09 L460.37,142.20 L460.17,143.08 L459.62,143.61 L458.91,143.68 L458.48,143.10 L458.32,142.35 L458.85,141.54 L459.81,140.97 L461.01,141.08 L462.16,141.52 L462.60,142.50" fill="none" stroke="#e979cc" stroke-width="1.35" stroke-linejoin="round" stroke-linecap="round"/>
<path d="M521.72,168.30 L521.57,169.05 L521.00,169.46 L520.24,169.73 L519.76,169.19 L519.67,168.53 L520.18,167.79 L521.28,167.25 L522.78,167.16 L523.93,167.87 L524.84,168.75 L524.72,169.77 L523.78,170.19 L522.90,170.20 L522.18,169.78 L521.72,168.98 L522.49,168.05 L523.80,167.37 L525.55,167.37 L526.93,168.14 L527.61,169.20 L527.27,170.16 L526.50,170.76 L525.38,171.08 L524.47,170.43 L524.24,169.43 L525.05,168.44 L526.47,167.82 L528.19,167.89 L529.71,168.53 L530.05,169.65 L530.05,170.67 L529.18,171.23 L528.09,171.43 L527.20,170.85 L527.36,169.88 L528.10,169.10 L529.28,168.61 L530.72,168.66 L532.08,169.14 L532.53,170.10 L532.55,171.02 L531.74,171.44 L530.90,171.54 L530.41,171.00 L530.17,170.32 L530.85,169.60 L531.95,169.06 L533.40,169.09 L534.45,169.75 L534.83,170.55 L535.15,171.44 L534.46,172.01 L533.61,171.90 L533.01,171.49 L532.71,170.78 L533.60,170.09 L534.68,169.67 L536.06,169.54 L537.30,170.10 L537.97,171.00" fill="none" stroke="#e979cc" stroke-width="1.35" stroke-linejoin="round" stroke-linecap="round"/>
<line x1="449.92" y1="179.10" x2="449.92" y2="177.90" stroke="#8c8c8c" stroke-width="0.7"/>
<line x1="449.92" y1="133.40" x2="449.92" y2="134.60" stroke="#8c8c8c" stroke-width="0.7"/>
<line x1="470.96" y1="179.10" x2="470.96" y2="177.90" stroke="#8c8c8c" stroke-width="0.7"/>
<line x1="470.96" y1="133.40" x2="470.96" y2="134.60" stroke="#8c8c8c" stroke-width="0.7"/>
<line x1="492.00" y1="179.10" x2="492.00" y2="177.90" stroke="#8c8c8c" stroke-width="0.7"/>
<line x1="492.00" y1="133.40" x2="492.00" y2="134.60" stroke="#8c8c8c" stroke-width="0.7"/>
<line x1="513.04" y1="179.10" x2="513.04" y2="177.90" stroke="#8c8c8c" stroke-width="0.7"/>
<line x1="513.04" y1="133.40" x2="513.04" y2="134.60" stroke="#8c8c8c" stroke-width="0.7"/>
<line x1="534.08" y1="179.10" x2="534.08" y2="177.90" stroke="#8c8c8c" stroke-width="0.7"/>
<line x1="534.08" y1="133.40" x2="534.08" y2="134.60" stroke="#8c8c8c" stroke-width="0.7"/>
<line x1="439.40" y1="179.10" x2="440.60" y2="179.10" stroke="#8c8c8c" stroke-width="0.7"/>
<line x1="544.60" y1="179.10" x2="543.40" y2="179.10" stroke="#8c8c8c" stroke-width="0.7"/>
<line x1="439.40" y1="167.68" x2="440.60" y2="167.68" stroke="#8c8c8c" stroke-width="0.7"/>
<line x1="544.60" y1="167.68" x2="543.40" y2="167.68" stroke="#8c8c8c" stroke-width="0.7"/>
<line x1="439.40" y1="156.25" x2="440.60" y2="156.25" stroke="#8c8c8c" stroke-width="0.7"/>
<line x1="544.60" y1="156.25" x2="543.40" y2="156.25" stroke="#8c8c8c" stroke-width="0.7"/>
<line x1="439.40" y1="144.82" x2="440.60" y2="144.82" stroke="#8c8c8c" stroke-width="0.7"/>
<line x1="544.60" y1="144.82" x2="543.40" y2="144.82" stroke="#8c8c8c" stroke-width="0.7"/>
<line x1="439.40" y1="133.40" x2="440.60" y2="133.40" stroke="#8c8c8c" stroke-width="0.7"/>
<line x1="544.60" y1="133.40" x2="543.40" y2="133.40" stroke="#8c8c8c" stroke-width="0.7"/>
<rect x="439.40" y="133.40" width="105.20" height="45.70" fill="none" stroke="#8c8c8c" stroke-width="0.95"/>
<text transform="translate(449.92,188.70) scale(0.24,0.275)" text-anchor="middle" class="tb">-20</text>
<text transform="translate(470.96,188.70) scale(0.24,0.275)" text-anchor="middle" class="tb">-10</text>
<text transform="translate(492.00,188.70) scale(0.24,0.275)" text-anchor="middle" class="tb">0</text>
<text transform="translate(513.04,188.70) scale(0.24,0.275)" text-anchor="middle" class="tb">10</text>
<text transform="translate(534.08,188.70) scale(0.24,0.275)" text-anchor="middle" class="tb">20</text>
<text transform="translate(436.70,182.05) scale(0.24,0.275)" text-anchor="end" class="tb">-400</text>
<text transform="translate(436.70,170.62) scale(0.24,0.275)" text-anchor="end" class="tb">-200</text>
<text transform="translate(436.70,159.20) scale(0.24,0.275)" text-anchor="end" class="tb">0</text>
<text transform="translate(436.70,147.77) scale(0.24,0.275)" text-anchor="end" class="tb">200</text>
<text transform="translate(436.70,136.35) scale(0.24,0.275)" text-anchor="end" class="tb">400</text>
<line x1="42.02" y1="195.50" x2="42.02" y2="241.30" stroke="#dddddd" stroke-width="0.6"/>
<line x1="62.46" y1="195.50" x2="62.46" y2="241.30" stroke="#dddddd" stroke-width="0.6"/>
<line x1="82.90" y1="195.50" x2="82.90" y2="241.30" stroke="#dddddd" stroke-width="0.6"/>
<line x1="103.34" y1="195.50" x2="103.34" y2="241.30" stroke="#dddddd" stroke-width="0.6"/>
<line x1="123.78" y1="195.50" x2="123.78" y2="241.30" stroke="#dddddd" stroke-width="0.6"/>
<line x1="31.80" y1="229.85" x2="134.00" y2="229.85" stroke="#dddddd" stroke-width="0.6"/>
<line x1="31.80" y1="218.40" x2="134.00" y2="218.40" stroke="#dddddd" stroke-width="0.6"/>
<line x1="31.80" y1="206.95" x2="134.00" y2="206.95" stroke="#dddddd" stroke-width="0.6"/>
<path d="M40.91,237.00 L42.04,235.93 L43.13,234.77 L43.92,233.71 L44.90,232.91 L45.77,231.82 L46.60,231.00 L47.77,230.33 L48.87,229.39 L50.07,228.87 L51.30,227.96 L52.47,227.36 L53.61,226.75 L54.71,226.58 L55.90,225.85 L57.16,225.65 L58.24,225.22 L59.44,224.64 L60.56,224.28 L62.37,223.94 L64.15,223.32 L65.25,222.97 L66.39,222.63 L67.58,222.54 L69.29,222.17 L71.08,221.62 L72.30,221.23 L73.41,220.76 L74.62,220.12 L75.82,219.41 L76.96,219.04 L78.04,218.32 L79.98,216.83 L81.11,215.92 L82.30,215.58 L83.46,214.80 L84.72,214.28 L85.81,213.44 L87.00,213.01 L88.12,212.53 L89.37,212.11 L90.44,211.68 L91.62,210.97 L92.85,210.73 L93.98,210.27 L95.17,209.62 L96.31,209.17 L97.45,208.76 L98.69,208.70 L99.79,207.92 L101.06,207.71 L102.16,207.23 L103.34,207.10 L104.49,206.57 L105.61,206.43 L106.78,205.93 L108.04,205.45 L109.19,205.41 L110.35,204.98 L111.45,204.47 L112.62,204.30 L113.81,203.81 L115.06,203.64 L116.22,203.11 L117.33,202.86 L118.50,202.32 L119.66,201.79 L120.82,201.66 L122.06,201.05 L123.60,200.24 L125.15,199.51 L124.63,200.85 L123.28,201.86 L122.03,202.88 L120.85,203.94 L119.65,204.95 L118.47,205.89 L117.37,206.68 L116.14,207.48 L115.02,208.03 L113.77,208.62 L112.64,209.27 L111.50,209.93 L110.35,210.39 L109.15,210.79 L108.03,211.33 L106.82,211.74 L105.71,212.08 L104.56,212.58 L103.34,212.88 L102.13,213.47 L101.05,213.79 L99.86,214.29 L98.69,214.47 L97.53,215.03 L96.35,215.27 L95.18,215.71 L94.02,215.99 L92.78,216.33 L91.66,217.09 L90.47,217.67 L89.35,218.02 L88.16,218.69 L86.95,219.25 L85.81,219.84 L84.63,220.35 L83.50,221.05 L82.35,221.74 L81.14,222.46 L79.94,222.86 L78.62,223.71 L77.25,224.73 L76.12,224.85 L74.98,225.30 L73.81,225.84 L72.64,226.55 L71.50,226.80 L70.34,227.36 L69.12,227.62 L67.98,228.26 L66.85,228.89 L65.65,229.04 L64.51,229.30 L63.25,229.93 L62.15,230.06 L60.98,230.66 L59.79,230.77 L58.02,231.12 L56.36,231.55 L55.19,232.07 L53.98,232.10 L52.86,232.50 L51.62,232.89 L50.52,233.43 L49.27,233.89 L48.09,234.35 L46.96,234.62 L45.83,235.23 L44.57,235.58 L43.44,236.21 L42.33,236.40 L40.87,236.76" fill="none" stroke="#ff4a00" stroke-width="1.7550000000000001" stroke-linejoin="round" stroke-linecap="round"/>
<line x1="42.02" y1="241.30" x2="42.02" y2="240.10" stroke="#8c8c8c" stroke-width="0.7"/>
<line x1="42.02" y1="195.50" x2="42.02" y2="196.70" stroke="#8c8c8c" stroke-width="0.7"/>
<line x1="62.46" y1="241.30" x2="62.46" y2="240.10" stroke="#8c8c8c" stroke-width="0.7"/>
<line x1="62.46" y1="195.50" x2="62.46" y2="196.70" stroke="#8c8c8c" stroke-width="0.7"/>
<line x1="82.90" y1="241.30" x2="82.90" y2="240.10" stroke="#8c8c8c" stroke-width="0.7"/>
<line x1="82.90" y1="195.50" x2="82.90" y2="196.70" stroke="#8c8c8c" stroke-width="0.7"/>
<line x1="103.34" y1="241.30" x2="103.34" y2="240.10" stroke="#8c8c8c" stroke-width="0.7"/>
<line x1="103.34" y1="195.50" x2="103.34" y2="196.70" stroke="#8c8c8c" stroke-width="0.7"/>
<line x1="123.78" y1="241.30" x2="123.78" y2="240.10" stroke="#8c8c8c" stroke-width="0.7"/>
<line x1="123.78" y1="195.50" x2="123.78" y2="196.70" stroke="#8c8c8c" stroke-width="0.7"/>
<line x1="31.80" y1="241.30" x2="33.00" y2="241.30" stroke="#8c8c8c" stroke-width="0.7"/>
<line x1="134.00" y1="241.30" x2="132.80" y2="241.30" stroke="#8c8c8c" stroke-width="0.7"/>
<line x1="31.80" y1="229.85" x2="33.00" y2="229.85" stroke="#8c8c8c" stroke-width="0.7"/>
<line x1="134.00" y1="229.85" x2="132.80" y2="229.85" stroke="#8c8c8c" stroke-width="0.7"/>
<line x1="31.80" y1="218.40" x2="33.00" y2="218.40" stroke="#8c8c8c" stroke-width="0.7"/>
<line x1="134.00" y1="218.40" x2="132.80" y2="218.40" stroke="#8c8c8c" stroke-width="0.7"/>
<line x1="31.80" y1="206.95" x2="33.00" y2="206.95" stroke="#8c8c8c" stroke-width="0.7"/>
<line x1="134.00" y1="206.95" x2="132.80" y2="206.95" stroke="#8c8c8c" stroke-width="0.7"/>
<line x1="31.80" y1="195.50" x2="33.00" y2="195.50" stroke="#8c8c8c" stroke-width="0.7"/>
<line x1="134.00" y1="195.50" x2="132.80" y2="195.50" stroke="#8c8c8c" stroke-width="0.7"/>
<rect x="31.80" y="195.50" width="102.20" height="45.80" fill="none" stroke="#8c8c8c" stroke-width="0.95"/>
<text transform="translate(42.02,250.55) scale(0.24,0.275)" text-anchor="middle" class="t">-20</text>
<text transform="translate(62.46,250.55) scale(0.24,0.275)" text-anchor="middle" class="t">-10</text>
<text transform="translate(82.90,250.55) scale(0.24,0.275)" text-anchor="middle" class="t">0</text>
<text transform="translate(103.34,250.55) scale(0.24,0.275)" text-anchor="middle" class="t">10</text>
<text transform="translate(123.78,250.55) scale(0.24,0.275)" text-anchor="middle" class="t">20</text>
<text transform="translate(29.10,244.45) scale(0.24,0.275)" text-anchor="end" class="t">-600</text>
<text transform="translate(29.10,233.00) scale(0.24,0.275)" text-anchor="end" class="t">-300</text>
<text transform="translate(29.10,221.55) scale(0.24,0.275)" text-anchor="end" class="t">0</text>
<text transform="translate(29.10,210.10) scale(0.24,0.275)" text-anchor="end" class="t">300</text>
<text transform="translate(29.10,198.65) scale(0.24,0.275)" text-anchor="end" class="t">600</text>
<text transform="translate(11.60,218.40) rotate(-90)" x="0" y="0" text-anchor="middle" class="l">Current (A)</text>
<text x="82.90" y="259.8" text-anchor="middle" class="l">Voltage (kV)</text>
<line x1="176.44" y1="195.50" x2="176.44" y2="241.30" stroke="#dddddd" stroke-width="0.6"/>
<line x1="196.92" y1="195.50" x2="196.92" y2="241.30" stroke="#dddddd" stroke-width="0.6"/>
<line x1="217.40" y1="195.50" x2="217.40" y2="241.30" stroke="#dddddd" stroke-width="0.6"/>
<line x1="237.88" y1="195.50" x2="237.88" y2="241.30" stroke="#dddddd" stroke-width="0.6"/>
<line x1="258.36" y1="195.50" x2="258.36" y2="241.30" stroke="#dddddd" stroke-width="0.6"/>
<line x1="166.20" y1="233.67" x2="268.60" y2="233.67" stroke="#dddddd" stroke-width="0.6"/>
<line x1="166.20" y1="226.03" x2="268.60" y2="226.03" stroke="#dddddd" stroke-width="0.6"/>
<line x1="166.20" y1="218.40" x2="268.60" y2="218.40" stroke="#dddddd" stroke-width="0.6"/>
<line x1="166.20" y1="210.77" x2="268.60" y2="210.77" stroke="#dddddd" stroke-width="0.6"/>
<line x1="166.20" y1="203.13" x2="268.60" y2="203.13" stroke="#dddddd" stroke-width="0.6"/>
<path d="M176.34,236.63 L177.15,235.45 L177.94,234.67 L179.30,233.50 L180.58,232.31 L181.74,231.55 L182.96,230.63 L184.10,229.97 L185.23,229.32 L186.47,228.61 L187.64,228.17 L188.81,227.47 L189.88,227.09 L191.14,226.38 L192.22,225.88 L193.45,225.52 L194.65,225.24 L195.73,224.80 L196.92,224.44 L198.15,223.81 L199.28,223.58 L200.47,223.39 L201.54,222.84 L202.78,222.42 L203.94,221.94 L205.15,221.71 L206.22,221.30 L207.41,220.65 L208.60,220.16 L209.73,219.85 L210.96,218.91 L212.13,218.31 L213.98,217.76 L215.18,216.79 L216.32,216.09 L217.46,215.60 L218.61,214.67 L219.86,213.96 L221.06,213.20 L222.22,212.86 L223.35,212.26 L224.49,211.63 L225.70,211.04 L226.83,210.65 L227.99,209.93 L229.20,209.61 L230.33,209.41 L231.46,208.71 L232.62,208.54 L233.82,208.00 L234.99,207.87 L236.14,207.30 L237.38,207.01 L238.47,206.59 L239.66,206.06 L240.82,205.72 L242.04,205.33 L243.19,205.19 L244.38,204.55 L245.51,204.13 L246.65,203.83 L247.87,203.64 L248.97,202.90 L250.16,202.52 L251.28,202.41 L252.45,201.99 L253.65,201.61 L254.88,200.79 L255.96,200.68 L257.31,200.02 L258.63,199.73 L258.60,200.69 L257.25,201.84 L255.96,203.15 L254.85,203.72 L253.68,204.47 L252.45,205.46 L251.33,206.13 L250.18,206.61 L248.96,207.23 L247.78,207.75 L246.72,208.46 L245.55,208.88 L244.36,209.42 L243.12,209.88 L242.05,210.08 L240.87,210.55 L239.64,211.12 L238.45,211.62 L237.39,211.88 L236.22,212.27 L235.04,212.81 L233.89,213.27 L232.72,213.51 L231.45,214.23 L230.35,214.55 L229.11,214.84 L227.98,215.22 L226.89,215.97 L225.72,216.41 L224.48,216.63 L223.36,217.21 L222.17,217.92 L221.00,218.33 L219.78,219.11 L218.61,219.71 L217.46,220.21 L216.29,220.89 L215.15,221.32 L213.97,222.03 L213.05,223.37 L211.79,223.73 L210.64,224.23 L209.53,224.63 L208.30,224.96 L207.15,225.44 L205.99,226.10 L204.84,226.43 L203.69,226.89 L202.54,227.25 L201.35,227.96 L200.13,228.28 L198.99,228.52 L197.78,229.20 L196.62,229.58 L195.45,229.85 L194.28,230.32 L193.20,230.59 L192.01,231.27 L190.81,231.56 L189.69,232.18 L188.46,232.56 L187.29,232.81 L186.22,233.25 L185.05,234.00 L183.85,234.39 L182.68,234.61 L181.49,234.98 L180.38,235.51 L179.20,235.59 L178.01,235.90 L176.33,236.60" fill="none" stroke="#ff4a00" stroke-width="1.7550000000000001" stroke-linejoin="round" stroke-linecap="round"/>
<line x1="176.44" y1="241.30" x2="176.44" y2="240.10" stroke="#8c8c8c" stroke-width="0.7"/>
<line x1="176.44" y1="195.50" x2="176.44" y2="196.70" stroke="#8c8c8c" stroke-width="0.7"/>
<line x1="196.92" y1="241.30" x2="196.92" y2="240.10" stroke="#8c8c8c" stroke-width="0.7"/>
<line x1="196.92" y1="195.50" x2="196.92" y2="196.70" stroke="#8c8c8c" stroke-width="0.7"/>
<line x1="217.40" y1="241.30" x2="217.40" y2="240.10" stroke="#8c8c8c" stroke-width="0.7"/>
<line x1="217.40" y1="195.50" x2="217.40" y2="196.70" stroke="#8c8c8c" stroke-width="0.7"/>
<line x1="237.88" y1="241.30" x2="237.88" y2="240.10" stroke="#8c8c8c" stroke-width="0.7"/>
<line x1="237.88" y1="195.50" x2="237.88" y2="196.70" stroke="#8c8c8c" stroke-width="0.7"/>
<line x1="258.36" y1="241.30" x2="258.36" y2="240.10" stroke="#8c8c8c" stroke-width="0.7"/>
<line x1="258.36" y1="195.50" x2="258.36" y2="196.70" stroke="#8c8c8c" stroke-width="0.7"/>
<line x1="166.20" y1="241.30" x2="167.40" y2="241.30" stroke="#8c8c8c" stroke-width="0.7"/>
<line x1="268.60" y1="241.30" x2="267.40" y2="241.30" stroke="#8c8c8c" stroke-width="0.7"/>
<line x1="166.20" y1="233.67" x2="167.40" y2="233.67" stroke="#8c8c8c" stroke-width="0.7"/>
<line x1="268.60" y1="233.67" x2="267.40" y2="233.67" stroke="#8c8c8c" stroke-width="0.7"/>
<line x1="166.20" y1="226.03" x2="167.40" y2="226.03" stroke="#8c8c8c" stroke-width="0.7"/>
<line x1="268.60" y1="226.03" x2="267.40" y2="226.03" stroke="#8c8c8c" stroke-width="0.7"/>
<line x1="166.20" y1="218.40" x2="167.40" y2="218.40" stroke="#8c8c8c" stroke-width="0.7"/>
<line x1="268.60" y1="218.40" x2="267.40" y2="218.40" stroke="#8c8c8c" stroke-width="0.7"/>
<line x1="166.20" y1="210.77" x2="167.40" y2="210.77" stroke="#8c8c8c" stroke-width="0.7"/>
<line x1="268.60" y1="210.77" x2="267.40" y2="210.77" stroke="#8c8c8c" stroke-width="0.7"/>
<line x1="166.20" y1="203.13" x2="167.40" y2="203.13" stroke="#8c8c8c" stroke-width="0.7"/>
<line x1="268.60" y1="203.13" x2="267.40" y2="203.13" stroke="#8c8c8c" stroke-width="0.7"/>
<line x1="166.20" y1="195.50" x2="167.40" y2="195.50" stroke="#8c8c8c" stroke-width="0.7"/>
<line x1="268.60" y1="195.50" x2="267.40" y2="195.50" stroke="#8c8c8c" stroke-width="0.7"/>
<rect x="166.20" y="195.50" width="102.40" height="45.80" fill="none" stroke="#8c8c8c" stroke-width="0.95"/>
<text transform="translate(176.44,250.55) scale(0.24,0.275)" text-anchor="middle" class="t">-20</text>
<text transform="translate(196.92,250.55) scale(0.24,0.275)" text-anchor="middle" class="t">-10</text>
<text transform="translate(217.40,250.55) scale(0.24,0.275)" text-anchor="middle" class="t">0</text>
<text transform="translate(237.88,250.55) scale(0.24,0.275)" text-anchor="middle" class="t">10</text>
<text transform="translate(258.36,250.55) scale(0.24,0.275)" text-anchor="middle" class="t">20</text>
<text transform="translate(163.50,244.45) scale(0.24,0.275)" text-anchor="end" class="t">-750</text>
<text transform="translate(163.50,236.82) scale(0.24,0.275)" text-anchor="end" class="t">-500</text>
<text transform="translate(163.50,229.18) scale(0.24,0.275)" text-anchor="end" class="t">-250</text>
<text transform="translate(163.50,221.55) scale(0.24,0.275)" text-anchor="end" class="t">0</text>
<text transform="translate(163.50,213.92) scale(0.24,0.275)" text-anchor="end" class="t">250</text>
<text transform="translate(163.50,206.28) scale(0.24,0.275)" text-anchor="end" class="t">500</text>
<text transform="translate(163.50,198.65) scale(0.24,0.275)" text-anchor="end" class="t">750</text>
<text x="217.40" y="259.8" text-anchor="middle" class="l">Voltage (kV)</text>
<line x1="311.91" y1="196.40" x2="311.91" y2="242.00" stroke="#dddddd" stroke-width="0.6"/>
<line x1="332.93" y1="196.40" x2="332.93" y2="242.00" stroke="#dddddd" stroke-width="0.6"/>
<line x1="353.95" y1="196.40" x2="353.95" y2="242.00" stroke="#dddddd" stroke-width="0.6"/>
<line x1="374.97" y1="196.40" x2="374.97" y2="242.00" stroke="#dddddd" stroke-width="0.6"/>
<line x1="395.99" y1="196.40" x2="395.99" y2="242.00" stroke="#dddddd" stroke-width="0.6"/>
<line x1="301.40" y1="230.60" x2="406.50" y2="230.60" stroke="#dddddd" stroke-width="0.6"/>
<line x1="301.40" y1="219.20" x2="406.50" y2="219.20" stroke="#dddddd" stroke-width="0.6"/>
<line x1="301.40" y1="207.80" x2="406.50" y2="207.80" stroke="#dddddd" stroke-width="0.6"/>
<path d="M310.37,202.89 L311.73,202.69 L313.01,202.72 L314.67,203.20 L316.42,203.56 L317.59,203.65 L318.82,204.40 L319.93,204.33 L321.19,205.07 L322.35,205.04 L323.59,205.13 L324.73,205.57 L325.77,205.77 L326.97,206.49 L328.69,206.75 L330.53,207.02 L331.68,207.14 L332.75,207.52 L334.03,207.96 L335.13,208.35 L336.32,208.48 L337.55,209.02 L338.62,209.24 L339.84,209.73 L341.04,209.67 L342.25,210.04 L343.32,210.89 L344.44,211.19 L345.58,211.70 L346.88,212.04 L348.07,212.29 L349.20,212.86 L350.35,213.17 L351.56,213.87 L352.50,214.60 L353.42,215.52 L354.69,216.03 L355.89,215.94 L356.98,216.50 L358.08,216.81 L359.27,217.04 L360.42,217.86 L361.60,218.12 L362.81,219.06 L363.92,219.37 L365.31,220.53 L366.66,221.42 L367.91,222.25 L369.27,223.63 L370.68,224.24 L371.84,225.34 L373.15,226.39 L374.52,227.16 L375.58,227.82 L376.81,228.47 L378.08,229.11 L379.17,229.67 L380.37,229.93 L381.57,230.97 L382.73,231.28 L383.81,231.34 L384.93,231.78 L386.67,231.69 L388.45,232.00 L390.22,232.28 L391.91,232.69 L393.13,233.18 L394.31,233.86 L395.62,233.79 L396.86,234.51 L398.18,234.97 L398.26,236.00 L396.89,235.44 L395.53,234.96 L394.37,234.89 L393.26,234.66 L391.91,234.97 L390.26,234.29 L388.51,234.02 L387.34,234.29 L386.23,233.82 L384.96,233.32 L383.77,233.16 L382.67,232.77 L381.47,232.03 L380.39,232.12 L379.23,231.65 L378.06,231.24 L376.78,230.71 L375.64,230.02 L374.42,229.77 L373.29,229.72 L372.25,229.27 L371.08,229.29 L369.33,228.52 L367.45,228.04 L366.28,227.72 L365.19,227.84 L364.06,227.29 L362.86,227.01 L361.59,226.46 L360.57,226.07 L359.38,225.49 L358.11,225.27 L356.97,224.88 L355.92,224.20 L354.65,224.10 L353.54,223.20 L352.43,222.34 L351.57,221.88 L350.27,221.13 L349.25,220.26 L347.97,219.43 L346.77,218.34 L345.75,217.96 L344.50,217.36 L343.32,216.62 L342.23,215.53 L340.96,214.88 L339.79,214.35 L338.62,213.55 L337.43,213.15 L336.17,212.02 L334.92,211.44 L333.59,210.55 L332.30,209.42 L330.95,208.26 L329.59,207.51 L328.34,207.51 L327.21,206.95 L326.14,206.63 L324.32,206.46 L322.61,206.47 L320.78,206.14 L319.05,205.77 L317.40,205.65 L315.61,205.56 L314.51,205.07 L313.29,204.80 L312.10,204.62 L310.39,203.12" fill="none" stroke="#e979cc" stroke-width="1.6875" stroke-linejoin="round" stroke-linecap="round"/>
<path d="M313.30,204.00 L313.32,205.12 L312.29,205.78 L311.05,205.72 L310.28,205.05 L309.86,204.15 L310.62,203.15 L312.14,202.69 L313.74,202.76 L314.92,203.43 L315.39,204.30 L315.43,205.16 L314.74,205.76 L313.85,205.57 L312.97,205.30 L313.15,204.45 L313.75,203.74 L314.92,203.38 L316.34,203.06 L317.56,203.71 L318.29,204.60 L318.06,205.47 L317.24,205.83 L316.40,205.99 L315.62,205.58 L315.66,204.75 L315.88,203.78 L317.38,203.38 L318.90,203.45 L320.48,203.84 L320.88,204.90 L321.12,206.02 L320.04,206.58 L318.83,206.68 L317.93,206.03 L317.63,205.05 L318.47,204.08 L319.92,203.54 L321.72,203.26 L323.07,204.15 L324.07,205.20 L323.57,206.24 L322.77,207.16 L321.35,207.15 L320.35,206.42 L320.15,205.35 L321.00,204.35 L322.46,203.71 L324.13,204.00 L325.54,204.52 L326.36,205.50" fill="none" stroke="#e979cc" stroke-width="1.35" stroke-linejoin="round" stroke-linecap="round"/>
<path d="M390.22,232.60 L389.64,233.38 L388.92,233.82 L387.95,234.16 L387.44,233.50 L387.38,232.86 L387.71,232.15 L388.88,231.85 L390.19,231.74 L391.08,232.42 L391.92,233.12 L391.51,233.84 L390.94,234.39 L390.01,234.56 L389.33,234.08 L389.04,233.38 L389.67,232.66 L390.91,232.42 L392.23,232.18 L393.37,232.79 L393.85,233.64 L393.68,234.45 L393.08,235.20 L391.95,235.20 L390.92,234.80 L390.72,233.90 L391.25,232.96 L392.71,232.51 L394.32,232.50 L395.68,233.15 L396.17,234.16 L396.23,235.25 L395.08,235.74 L393.85,235.94 L392.77,235.40 L392.65,234.42 L393.51,233.61 L394.66,232.94 L396.30,233.06 L397.43,233.80 L397.91,234.68 L397.90,235.60 L396.96,235.99 L395.92,236.30 L395.22,235.69 L395.08,234.94 L395.72,234.24 L396.81,233.77 L398.22,233.77 L399.16,234.46 L399.68,235.20" fill="none" stroke="#e979cc" stroke-width="1.35" stroke-linejoin="round" stroke-linecap="round"/>
<line x1="311.91" y1="242.00" x2="311.91" y2="240.80" stroke="#8c8c8c" stroke-width="0.7"/>
<line x1="311.91" y1="196.40" x2="311.91" y2="197.60" stroke="#8c8c8c" stroke-width="0.7"/>
<line x1="332.93" y1="242.00" x2="332.93" y2="240.80" stroke="#8c8c8c" stroke-width="0.7"/>
<line x1="332.93" y1="196.40" x2="332.93" y2="197.60" stroke="#8c8c8c" stroke-width="0.7"/>
<line x1="353.95" y1="242.00" x2="353.95" y2="240.80" stroke="#8c8c8c" stroke-width="0.7"/>
<line x1="353.95" y1="196.40" x2="353.95" y2="197.60" stroke="#8c8c8c" stroke-width="0.7"/>
<line x1="374.97" y1="242.00" x2="374.97" y2="240.80" stroke="#8c8c8c" stroke-width="0.7"/>
<line x1="374.97" y1="196.40" x2="374.97" y2="197.60" stroke="#8c8c8c" stroke-width="0.7"/>
<line x1="395.99" y1="242.00" x2="395.99" y2="240.80" stroke="#8c8c8c" stroke-width="0.7"/>
<line x1="395.99" y1="196.40" x2="395.99" y2="197.60" stroke="#8c8c8c" stroke-width="0.7"/>
<line x1="301.40" y1="242.00" x2="302.60" y2="242.00" stroke="#8c8c8c" stroke-width="0.7"/>
<line x1="406.50" y1="242.00" x2="405.30" y2="242.00" stroke="#8c8c8c" stroke-width="0.7"/>
<line x1="301.40" y1="230.60" x2="302.60" y2="230.60" stroke="#8c8c8c" stroke-width="0.7"/>
<line x1="406.50" y1="230.60" x2="405.30" y2="230.60" stroke="#8c8c8c" stroke-width="0.7"/>
<line x1="301.40" y1="219.20" x2="302.60" y2="219.20" stroke="#8c8c8c" stroke-width="0.7"/>
<line x1="406.50" y1="219.20" x2="405.30" y2="219.20" stroke="#8c8c8c" stroke-width="0.7"/>
<line x1="301.40" y1="207.80" x2="302.60" y2="207.80" stroke="#8c8c8c" stroke-width="0.7"/>
<line x1="406.50" y1="207.80" x2="405.30" y2="207.80" stroke="#8c8c8c" stroke-width="0.7"/>
<line x1="301.40" y1="196.40" x2="302.60" y2="196.40" stroke="#8c8c8c" stroke-width="0.7"/>
<line x1="406.50" y1="196.40" x2="405.30" y2="196.40" stroke="#8c8c8c" stroke-width="0.7"/>
<rect x="301.40" y="196.40" width="105.10" height="45.60" fill="none" stroke="#8c8c8c" stroke-width="0.95"/>
<text transform="translate(311.91,251.60) scale(0.24,0.275)" text-anchor="middle" class="tb">-20</text>
<text transform="translate(332.93,251.60) scale(0.24,0.275)" text-anchor="middle" class="tb">-10</text>
<text transform="translate(353.95,251.60) scale(0.24,0.275)" text-anchor="middle" class="tb">0</text>
<text transform="translate(374.97,251.60) scale(0.24,0.275)" text-anchor="middle" class="tb">10</text>
<text transform="translate(395.99,251.60) scale(0.24,0.275)" text-anchor="middle" class="tb">20</text>
<text transform="translate(298.70,244.95) scale(0.24,0.275)" text-anchor="end" class="tb">-500</text>
<text transform="translate(298.70,233.55) scale(0.24,0.275)" text-anchor="end" class="tb">-250</text>
<text transform="translate(298.70,222.15) scale(0.24,0.275)" text-anchor="end" class="tb">0</text>
<text transform="translate(298.70,210.75) scale(0.24,0.275)" text-anchor="end" class="tb">250</text>
<text transform="translate(298.70,199.35) scale(0.24,0.275)" text-anchor="end" class="tb">500</text>
<text transform="translate(281.50,219.20) rotate(-90)" x="0" y="0" text-anchor="middle" class="lb">Current (A)</text>
<text x="353.95" y="260.1" text-anchor="middle" class="lb">Voltage (kV)</text>
<line x1="456.93" y1="196.40" x2="456.93" y2="242.00" stroke="#dddddd" stroke-width="0.6"/>
<line x1="492.00" y1="196.40" x2="492.00" y2="242.00" stroke="#dddddd" stroke-width="0.6"/>
<line x1="527.07" y1="196.40" x2="527.07" y2="242.00" stroke="#dddddd" stroke-width="0.6"/>
<line x1="439.40" y1="230.60" x2="544.60" y2="230.60" stroke="#dddddd" stroke-width="0.6"/>
<line x1="439.40" y1="219.20" x2="544.60" y2="219.20" stroke="#dddddd" stroke-width="0.6"/>
<line x1="439.40" y1="207.80" x2="544.60" y2="207.80" stroke="#dddddd" stroke-width="0.6"/>
<path d="M456.25,199.88 L457.53,199.57 L458.83,199.15 L460.29,199.83 L461.53,200.68 L462.66,201.10 L463.78,201.70 L464.93,201.74 L466.08,202.16 L467.32,202.94 L468.48,202.87 L469.62,203.99 L470.75,204.37 L471.98,205.00 L473.14,205.48 L474.33,205.92 L475.57,206.35 L476.60,206.51 L477.91,207.23 L478.94,207.97 L480.18,208.24 L481.40,208.37 L482.47,209.13 L483.60,209.46 L484.76,209.81 L486.04,210.37 L487.06,210.80 L487.95,211.29 L489.17,212.21 L490.26,213.14 L491.50,213.72 L492.62,214.05 L493.75,214.71 L494.96,215.35 L496.14,216.37 L497.40,216.74 L498.48,217.50 L499.40,218.85 L500.18,219.59 L501.06,220.01 L502.05,221.07 L502.84,221.99 L503.75,222.85 L504.96,223.72 L506.15,224.51 L507.23,225.25 L508.40,226.41 L509.61,227.48 L510.80,228.32 L512.05,228.80 L513.05,229.72 L514.28,230.84 L515.51,231.28 L516.72,231.64 L517.86,232.33 L519.03,232.69 L520.22,233.59 L521.39,233.95 L522.41,234.62 L523.62,234.52 L524.82,235.20 L526.10,235.59 L527.33,236.45 L528.69,237.58 L527.99,238.84 L525.74,238.18 L524.33,237.47 L522.95,236.72 L521.82,236.26 L520.71,236.22 L519.52,235.41 L518.31,235.19 L517.09,235.05 L516.05,234.30 L514.87,233.65 L513.62,233.38 L512.54,232.99 L511.24,232.57 L510.24,232.25 L509.08,231.99 L507.78,230.98 L506.68,230.79 L505.48,230.16 L504.40,229.34 L503.19,229.04 L502.05,228.08 L500.90,227.42 L499.64,227.28 L498.56,226.29 L497.30,225.90 L496.23,225.38 L495.08,224.84 L493.89,224.16 L492.64,223.46 L491.50,222.92 L490.39,222.19 L489.09,221.91 L487.96,221.15 L486.70,220.40 L485.49,219.07 L484.35,218.20 L482.91,217.28 L481.58,215.82 L480.82,215.21 L479.91,214.02 L479.06,213.36 L477.89,212.32 L476.72,211.68 L475.48,210.69 L474.25,209.80 L472.98,208.57 L471.53,207.57 L470.33,206.35 L469.13,206.25 L468.04,205.72 L466.73,204.96 L465.70,204.56 L464.43,203.76 L463.38,203.82 L462.16,203.12 L461.03,202.99 L459.84,202.46 L458.42,201.78 L457.07,201.30 L456.30,199.37" fill="none" stroke="#e979cc" stroke-width="1.6875" stroke-linejoin="round" stroke-linecap="round"/>
<line x1="456.93" y1="242.00" x2="456.93" y2="240.80" stroke="#8c8c8c" stroke-width="0.7"/>
<line x1="456.93" y1="196.40" x2="456.93" y2="197.60" stroke="#8c8c8c" stroke-width="0.7"/>
<line x1="492.00" y1="242.00" x2="492.00" y2="240.80" stroke="#8c8c8c" stroke-width="0.7"/>
<line x1="492.00" y1="196.40" x2="492.00" y2="197.60" stroke="#8c8c8c" stroke-width="0.7"/>
<line x1="527.07" y1="242.00" x2="527.07" y2="240.80" stroke="#8c8c8c" stroke-width="0.7"/>
<line x1="527.07" y1="196.40" x2="527.07" y2="197.60" stroke="#8c8c8c" stroke-width="0.7"/>
<line x1="439.40" y1="242.00" x2="440.60" y2="242.00" stroke="#8c8c8c" stroke-width="0.7"/>
<line x1="544.60" y1="242.00" x2="543.40" y2="242.00" stroke="#8c8c8c" stroke-width="0.7"/>
<line x1="439.40" y1="230.60" x2="440.60" y2="230.60" stroke="#8c8c8c" stroke-width="0.7"/>
<line x1="544.60" y1="230.60" x2="543.40" y2="230.60" stroke="#8c8c8c" stroke-width="0.7"/>
<line x1="439.40" y1="219.20" x2="440.60" y2="219.20" stroke="#8c8c8c" stroke-width="0.7"/>
<line x1="544.60" y1="219.20" x2="543.40" y2="219.20" stroke="#8c8c8c" stroke-width="0.7"/>
<line x1="439.40" y1="207.80" x2="440.60" y2="207.80" stroke="#8c8c8c" stroke-width="0.7"/>
<line x1="544.60" y1="207.80" x2="543.40" y2="207.80" stroke="#8c8c8c" stroke-width="0.7"/>
<line x1="439.40" y1="196.40" x2="440.60" y2="196.40" stroke="#8c8c8c" stroke-width="0.7"/>
<line x1="544.60" y1="196.40" x2="543.40" y2="196.40" stroke="#8c8c8c" stroke-width="0.7"/>
<rect x="439.40" y="196.40" width="105.20" height="45.60" fill="none" stroke="#8c8c8c" stroke-width="0.95"/>
<text transform="translate(456.93,251.60) scale(0.24,0.275)" text-anchor="middle" class="tb">-20</text>
<text transform="translate(492.00,251.60) scale(0.24,0.275)" text-anchor="middle" class="tb">0</text>
<text transform="translate(527.07,251.60) scale(0.24,0.275)" text-anchor="middle" class="tb">20</text>
<text transform="translate(436.70,244.95) scale(0.24,0.275)" text-anchor="end" class="tb">-500</text>
<text transform="translate(436.70,233.55) scale(0.24,0.275)" text-anchor="end" class="tb">-250</text>
<text transform="translate(436.70,222.15) scale(0.24,0.275)" text-anchor="end" class="tb">0</text>
<text transform="translate(436.70,210.75) scale(0.24,0.275)" text-anchor="end" class="tb">250</text>
<text transform="translate(436.70,199.35) scale(0.24,0.275)" text-anchor="end" class="tb">500</text>
<text x="492.00" y="260.1" text-anchor="middle" class="lb">Voltage (kV)</text>
<text x="135.3" y="274.5" text-anchor="middle" class="p">(a)</text>
<text x="408.8" y="274.5" text-anchor="middle" class="p">(b)</text>
</g>
</svg>
</body></html>
